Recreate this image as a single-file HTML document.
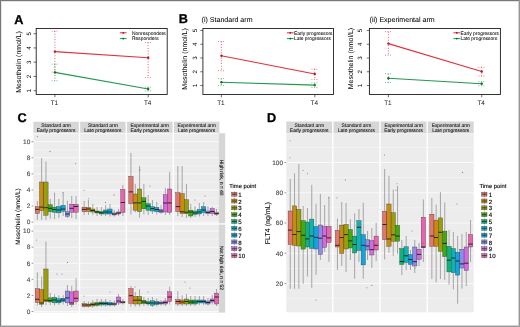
<!DOCTYPE html>
<html><head><meta charset="utf-8"><style>
html,body{margin:0;padding:0;background:#fff;}
body{width:520px;height:327px;overflow:hidden;}
svg{display:block;font-family:"Liberation Sans", sans-serif;text-rendering:geometricPrecision;will-change:transform;}
</style></head><body>
<svg width="520" height="327" viewBox="0 0 520 327">
<defs><filter id="bl" x="-2%" y="-2%" width="104%" height="104%"><feGaussianBlur stdDeviation="0.3"/></filter></defs>
<rect x="0" y="0" width="520" height="327" fill="#fff"/>
<g filter="url(#bl)">
<text x="14.2" y="23.6" font-size="12.7" text-anchor="start" fill="#000" font-weight="bold" stroke="#000" stroke-width="0.300">A</text>
<text x="178.8" y="23.1" font-size="12.7" text-anchor="start" fill="#000" font-weight="bold" stroke="#000" stroke-width="0.300">B</text>
<text x="17.6" y="122.0" font-size="12.7" text-anchor="start" fill="#000" font-weight="bold" stroke="#000" stroke-width="0.300">C</text>
<text x="266.9" y="121.9" font-size="12.7" text-anchor="start" fill="#000" font-weight="bold" stroke="#000" stroke-width="0.300">D</text>
<rect x="36.2" y="28.5" width="131.0" height="66.0" fill="none" stroke="#1c1c1c" stroke-width="0.9"/>
<line x1="36.2" y1="90.7" x2="33.6" y2="90.7" stroke="#333" stroke-width="0.7"/>
<text x="30.599999999999998" y="90.7" font-size="6.2" text-anchor="middle" fill="#000" font-weight="normal" transform="rotate(-90 30.599999999999998 90.7)">1</text>
<line x1="36.2" y1="76.45" x2="33.6" y2="76.45" stroke="#333" stroke-width="0.7"/>
<text x="30.599999999999998" y="76.45" font-size="6.2" text-anchor="middle" fill="#000" font-weight="normal" transform="rotate(-90 30.599999999999998 76.45)">2</text>
<line x1="36.2" y1="62.2" x2="33.6" y2="62.2" stroke="#333" stroke-width="0.7"/>
<text x="30.599999999999998" y="62.2" font-size="6.2" text-anchor="middle" fill="#000" font-weight="normal" transform="rotate(-90 30.599999999999998 62.2)">3</text>
<line x1="36.2" y1="47.95" x2="33.6" y2="47.95" stroke="#333" stroke-width="0.7"/>
<text x="30.599999999999998" y="47.95" font-size="6.2" text-anchor="middle" fill="#000" font-weight="normal" transform="rotate(-90 30.599999999999998 47.95)">4</text>
<line x1="36.2" y1="33.7" x2="33.6" y2="33.7" stroke="#333" stroke-width="0.7"/>
<text x="30.599999999999998" y="33.7" font-size="6.2" text-anchor="middle" fill="#000" font-weight="normal" transform="rotate(-90 30.599999999999998 33.7)">5</text>
<line x1="54.9" y1="94.5" x2="54.9" y2="97.3" stroke="#333" stroke-width="0.7"/>
<text x="54.4" y="105.1" font-size="6.4" text-anchor="middle" fill="#222" font-weight="normal">T1</text>
<line x1="148.2" y1="94.5" x2="148.2" y2="97.3" stroke="#333" stroke-width="0.7"/>
<text x="147.7" y="105.1" font-size="6.4" text-anchor="middle" fill="#222" font-weight="normal">T4</text>
<text x="20.6" y="62.0" font-size="7.0" text-anchor="middle" fill="#000" font-weight="normal" stroke="#000" stroke-width="0.050" transform="rotate(-90 20.6 62.0)">Mesothelin (nmol/L)</text>
<line x1="54.9" y1="31.1" x2="54.9" y2="72.1" stroke="#E0303F" stroke-width="0.9" stroke-dasharray="0.9 1.8" opacity="0.95"/>
<line x1="51.6" y1="31.1" x2="58.199999999999996" y2="31.1" stroke="#E0303F" stroke-width="0.8" stroke-dasharray="0.9 1.6" opacity="0.85"/>
<line x1="51.6" y1="72.1" x2="58.199999999999996" y2="72.1" stroke="#E0303F" stroke-width="0.8" stroke-dasharray="0.9 1.6" opacity="0.85"/>
<line x1="148.2" y1="42.6" x2="148.2" y2="77.4" stroke="#E0303F" stroke-width="0.9" stroke-dasharray="0.9 1.8" opacity="0.95"/>
<line x1="144.89999999999998" y1="42.6" x2="151.5" y2="42.6" stroke="#E0303F" stroke-width="0.8" stroke-dasharray="0.9 1.6" opacity="0.85"/>
<line x1="144.89999999999998" y1="77.4" x2="151.5" y2="77.4" stroke="#E0303F" stroke-width="0.8" stroke-dasharray="0.9 1.6" opacity="0.85"/>
<line x1="54.9" y1="51.6" x2="148.2" y2="57.8" stroke="#E0303F" stroke-width="1.1"/>
<circle cx="54.9" cy="51.6" r="1.2" fill="#A8101F" opacity="0.9"/>
<circle cx="148.2" cy="57.8" r="1.2" fill="#A8101F" opacity="0.9"/>
<line x1="54.9" y1="64.2" x2="54.9" y2="80.8" stroke="#23984E" stroke-width="0.9" stroke-dasharray="0.9 1.8" opacity="0.95"/>
<line x1="51.6" y1="64.2" x2="58.199999999999996" y2="64.2" stroke="#23984E" stroke-width="0.8" stroke-dasharray="0.9 1.6" opacity="0.85"/>
<line x1="51.6" y1="80.8" x2="58.199999999999996" y2="80.8" stroke="#23984E" stroke-width="0.8" stroke-dasharray="0.9 1.6" opacity="0.85"/>
<line x1="148.2" y1="87.2" x2="148.2" y2="91.0" stroke="#23984E" stroke-width="0.9" stroke-dasharray="0.9 1.8" opacity="0.95"/>
<line x1="144.89999999999998" y1="87.2" x2="151.5" y2="87.2" stroke="#23984E" stroke-width="0.8" stroke-dasharray="0.9 1.6" opacity="0.85"/>
<line x1="144.89999999999998" y1="91.0" x2="151.5" y2="91.0" stroke="#23984E" stroke-width="0.8" stroke-dasharray="0.9 1.6" opacity="0.85"/>
<line x1="54.9" y1="72.4" x2="148.2" y2="89.0" stroke="#23984E" stroke-width="1.1"/>
<circle cx="54.9" cy="72.4" r="1.2" fill="#145A2A" opacity="0.9"/>
<circle cx="148.2" cy="89.0" r="1.2" fill="#145A2A" opacity="0.9"/>
<line x1="119.8" y1="32.8" x2="126.6" y2="32.8" stroke="#E0303F" stroke-width="1.0"/>
<circle cx="123.2" cy="32.8" r="0.9" fill="#A8101F"/>
<text x="132.0" y="34.599999999999994" font-size="4.95" text-anchor="start" fill="#000" font-weight="normal" stroke="#000" stroke-width="0.050">Nonresponders</text>
<line x1="119.8" y1="38.599999999999994" x2="126.6" y2="38.599999999999994" stroke="#23984E" stroke-width="1.0"/>
<circle cx="123.2" cy="38.599999999999994" r="0.9" fill="#145A2A"/>
<text x="132.0" y="40.39999999999999" font-size="4.95" text-anchor="start" fill="#000" font-weight="normal" stroke="#000" stroke-width="0.050">Responders</text>
<rect x="202.9" y="28.5" width="130.6" height="66.0" fill="none" stroke="#1c1c1c" stroke-width="0.9"/>
<line x1="202.9" y1="85.5" x2="200.3" y2="85.5" stroke="#333" stroke-width="0.7"/>
<text x="196.6" y="85.5" font-size="6.2" text-anchor="middle" fill="#000" font-weight="normal" transform="rotate(-90 196.6 85.5)">1</text>
<line x1="202.9" y1="71.75" x2="200.3" y2="71.75" stroke="#333" stroke-width="0.7"/>
<text x="196.6" y="71.75" font-size="6.2" text-anchor="middle" fill="#000" font-weight="normal" transform="rotate(-90 196.6 71.75)">2</text>
<line x1="202.9" y1="58.0" x2="200.3" y2="58.0" stroke="#333" stroke-width="0.7"/>
<text x="196.6" y="58.0" font-size="6.2" text-anchor="middle" fill="#000" font-weight="normal" transform="rotate(-90 196.6 58.0)">3</text>
<line x1="202.9" y1="44.25" x2="200.3" y2="44.25" stroke="#333" stroke-width="0.7"/>
<text x="196.6" y="44.25" font-size="6.2" text-anchor="middle" fill="#000" font-weight="normal" transform="rotate(-90 196.6 44.25)">4</text>
<line x1="202.9" y1="30.5" x2="200.3" y2="30.5" stroke="#333" stroke-width="0.7"/>
<text x="196.6" y="30.5" font-size="6.2" text-anchor="middle" fill="#000" font-weight="normal" transform="rotate(-90 196.6 30.5)">5</text>
<line x1="221.4" y1="94.5" x2="221.4" y2="97.3" stroke="#333" stroke-width="0.7"/>
<text x="220.9" y="105.1" font-size="6.4" text-anchor="middle" fill="#222" font-weight="normal">T1</text>
<line x1="314.8" y1="94.5" x2="314.8" y2="97.3" stroke="#333" stroke-width="0.7"/>
<text x="314.3" y="105.1" font-size="6.4" text-anchor="middle" fill="#222" font-weight="normal">T4</text>
<text x="186.9" y="58.9" font-size="7.0" text-anchor="middle" fill="#000" font-weight="normal" stroke="#000" stroke-width="0.050" transform="rotate(-90 186.9 58.9)">Mesothelin (nmol/L)</text>
<line x1="221.4" y1="41.5" x2="221.4" y2="70.7" stroke="#E0303F" stroke-width="0.9" stroke-dasharray="0.9 1.8" opacity="0.95"/>
<line x1="218.1" y1="41.5" x2="224.70000000000002" y2="41.5" stroke="#E0303F" stroke-width="0.8" stroke-dasharray="0.9 1.6" opacity="0.85"/>
<line x1="218.1" y1="70.7" x2="224.70000000000002" y2="70.7" stroke="#E0303F" stroke-width="0.8" stroke-dasharray="0.9 1.6" opacity="0.85"/>
<line x1="314.8" y1="69.1" x2="314.8" y2="79.5" stroke="#E0303F" stroke-width="0.9" stroke-dasharray="0.9 1.8" opacity="0.95"/>
<line x1="311.5" y1="69.1" x2="318.1" y2="69.1" stroke="#E0303F" stroke-width="0.8" stroke-dasharray="0.9 1.6" opacity="0.85"/>
<line x1="311.5" y1="79.5" x2="318.1" y2="79.5" stroke="#E0303F" stroke-width="0.8" stroke-dasharray="0.9 1.6" opacity="0.85"/>
<line x1="221.4" y1="55.8" x2="314.8" y2="74.0" stroke="#E0303F" stroke-width="1.1"/>
<circle cx="221.4" cy="55.8" r="1.2" fill="#A8101F" opacity="0.9"/>
<circle cx="314.8" cy="74.0" r="1.2" fill="#A8101F" opacity="0.9"/>
<line x1="221.4" y1="78.6" x2="221.4" y2="85.4" stroke="#23984E" stroke-width="0.9" stroke-dasharray="0.9 1.8" opacity="0.95"/>
<line x1="218.1" y1="78.6" x2="224.70000000000002" y2="78.6" stroke="#23984E" stroke-width="0.8" stroke-dasharray="0.9 1.6" opacity="0.85"/>
<line x1="218.1" y1="85.4" x2="224.70000000000002" y2="85.4" stroke="#23984E" stroke-width="0.8" stroke-dasharray="0.9 1.6" opacity="0.85"/>
<line x1="314.8" y1="82.9" x2="314.8" y2="87.5" stroke="#23984E" stroke-width="0.9" stroke-dasharray="0.9 1.8" opacity="0.95"/>
<line x1="311.5" y1="82.9" x2="318.1" y2="82.9" stroke="#23984E" stroke-width="0.8" stroke-dasharray="0.9 1.6" opacity="0.85"/>
<line x1="311.5" y1="87.5" x2="318.1" y2="87.5" stroke="#23984E" stroke-width="0.8" stroke-dasharray="0.9 1.6" opacity="0.85"/>
<line x1="221.4" y1="82.3" x2="314.8" y2="85.1" stroke="#23984E" stroke-width="1.1"/>
<circle cx="221.4" cy="82.3" r="1.2" fill="#145A2A" opacity="0.9"/>
<circle cx="314.8" cy="85.1" r="1.2" fill="#145A2A" opacity="0.9"/>
<line x1="286.9" y1="32.8" x2="293.7" y2="32.8" stroke="#E0303F" stroke-width="1.0"/>
<circle cx="290.29999999999995" cy="32.8" r="0.9" fill="#A8101F"/>
<text x="293.9" y="34.599999999999994" font-size="4.95" text-anchor="start" fill="#000" font-weight="normal" stroke="#000" stroke-width="0.050">Early progressors</text>
<line x1="286.9" y1="38.599999999999994" x2="293.7" y2="38.599999999999994" stroke="#23984E" stroke-width="1.0"/>
<circle cx="290.29999999999995" cy="38.599999999999994" r="0.9" fill="#145A2A"/>
<text x="293.9" y="40.39999999999999" font-size="4.95" text-anchor="start" fill="#000" font-weight="normal" stroke="#000" stroke-width="0.050">Late progressors</text>
<text x="201.6" y="22.4" font-size="7.05" text-anchor="start" fill="#000" font-weight="normal" stroke="#000" stroke-width="0.050">(i) Standard arm</text>
<rect x="369.4" y="28.5" width="131.0" height="66.0" fill="none" stroke="#1c1c1c" stroke-width="0.9"/>
<line x1="369.4" y1="85.5" x2="366.79999999999995" y2="85.5" stroke="#333" stroke-width="0.7"/>
<text x="362.4" y="85.5" font-size="6.2" text-anchor="middle" fill="#000" font-weight="normal" transform="rotate(-90 362.4 85.5)">1</text>
<line x1="369.4" y1="71.75" x2="366.79999999999995" y2="71.75" stroke="#333" stroke-width="0.7"/>
<text x="362.4" y="71.75" font-size="6.2" text-anchor="middle" fill="#000" font-weight="normal" transform="rotate(-90 362.4 71.75)">2</text>
<line x1="369.4" y1="58.0" x2="366.79999999999995" y2="58.0" stroke="#333" stroke-width="0.7"/>
<text x="362.4" y="58.0" font-size="6.2" text-anchor="middle" fill="#000" font-weight="normal" transform="rotate(-90 362.4 58.0)">3</text>
<line x1="369.4" y1="44.25" x2="366.79999999999995" y2="44.25" stroke="#333" stroke-width="0.7"/>
<text x="362.4" y="44.25" font-size="6.2" text-anchor="middle" fill="#000" font-weight="normal" transform="rotate(-90 362.4 44.25)">4</text>
<line x1="369.4" y1="30.5" x2="366.79999999999995" y2="30.5" stroke="#333" stroke-width="0.7"/>
<text x="362.4" y="30.5" font-size="6.2" text-anchor="middle" fill="#000" font-weight="normal" transform="rotate(-90 362.4 30.5)">5</text>
<line x1="388.4" y1="94.5" x2="388.4" y2="97.3" stroke="#333" stroke-width="0.7"/>
<text x="387.9" y="105.1" font-size="6.4" text-anchor="middle" fill="#222" font-weight="normal">T1</text>
<line x1="481.7" y1="94.5" x2="481.7" y2="97.3" stroke="#333" stroke-width="0.7"/>
<text x="481.2" y="105.1" font-size="6.4" text-anchor="middle" fill="#222" font-weight="normal">T4</text>
<text x="353.0" y="58.6" font-size="7.0" text-anchor="middle" fill="#000" font-weight="normal" stroke="#000" stroke-width="0.050" transform="rotate(-90 353.0 58.6)">Mesothelin (nmol/L)</text>
<line x1="388.4" y1="31.7" x2="388.4" y2="55.2" stroke="#E0303F" stroke-width="0.9" stroke-dasharray="0.9 1.8" opacity="0.95"/>
<line x1="385.09999999999997" y1="31.7" x2="391.7" y2="31.7" stroke="#E0303F" stroke-width="0.8" stroke-dasharray="0.9 1.6" opacity="0.85"/>
<line x1="385.09999999999997" y1="55.2" x2="391.7" y2="55.2" stroke="#E0303F" stroke-width="0.8" stroke-dasharray="0.9 1.6" opacity="0.85"/>
<line x1="481.7" y1="67.3" x2="481.7" y2="76.1" stroke="#E0303F" stroke-width="0.9" stroke-dasharray="0.9 1.8" opacity="0.95"/>
<line x1="478.4" y1="67.3" x2="485.0" y2="67.3" stroke="#E0303F" stroke-width="0.8" stroke-dasharray="0.9 1.6" opacity="0.85"/>
<line x1="478.4" y1="76.1" x2="485.0" y2="76.1" stroke="#E0303F" stroke-width="0.8" stroke-dasharray="0.9 1.6" opacity="0.85"/>
<line x1="388.4" y1="43.6" x2="481.7" y2="71.5" stroke="#E0303F" stroke-width="1.1"/>
<circle cx="388.4" cy="43.6" r="1.2" fill="#A8101F" opacity="0.9"/>
<circle cx="481.7" cy="71.5" r="1.2" fill="#A8101F" opacity="0.9"/>
<line x1="388.4" y1="73.7" x2="388.4" y2="82.5" stroke="#23984E" stroke-width="0.9" stroke-dasharray="0.9 1.8" opacity="0.95"/>
<line x1="385.09999999999997" y1="73.7" x2="391.7" y2="73.7" stroke="#23984E" stroke-width="0.8" stroke-dasharray="0.9 1.6" opacity="0.85"/>
<line x1="385.09999999999997" y1="82.5" x2="391.7" y2="82.5" stroke="#23984E" stroke-width="0.8" stroke-dasharray="0.9 1.6" opacity="0.85"/>
<line x1="481.7" y1="81.7" x2="481.7" y2="85.8" stroke="#23984E" stroke-width="0.9" stroke-dasharray="0.9 1.8" opacity="0.95"/>
<line x1="478.4" y1="81.7" x2="485.0" y2="81.7" stroke="#23984E" stroke-width="0.8" stroke-dasharray="0.9 1.6" opacity="0.85"/>
<line x1="478.4" y1="85.8" x2="485.0" y2="85.8" stroke="#23984E" stroke-width="0.8" stroke-dasharray="0.9 1.6" opacity="0.85"/>
<line x1="388.4" y1="78.2" x2="481.7" y2="83.8" stroke="#23984E" stroke-width="1.1"/>
<circle cx="388.4" cy="78.2" r="1.2" fill="#145A2A" opacity="0.9"/>
<circle cx="481.7" cy="83.8" r="1.2" fill="#145A2A" opacity="0.9"/>
<line x1="453.4" y1="32.8" x2="460.2" y2="32.8" stroke="#E0303F" stroke-width="1.0"/>
<circle cx="456.79999999999995" cy="32.8" r="0.9" fill="#A8101F"/>
<text x="460.4" y="34.599999999999994" font-size="4.95" text-anchor="start" fill="#000" font-weight="normal" stroke="#000" stroke-width="0.050">Early progressors</text>
<line x1="453.4" y1="38.599999999999994" x2="460.2" y2="38.599999999999994" stroke="#23984E" stroke-width="1.0"/>
<circle cx="456.79999999999995" cy="38.599999999999994" r="0.9" fill="#145A2A"/>
<text x="460.4" y="40.39999999999999" font-size="4.95" text-anchor="start" fill="#000" font-weight="normal" stroke="#000" stroke-width="0.050">Late progressors</text>
<text x="369.6" y="22.4" font-size="7.05" text-anchor="start" fill="#000" font-weight="normal" stroke="#000" stroke-width="0.050">(ii) Experimental arm</text>
<rect x="33.4" y="133.2" width="45.4" height="90.10000000000002" fill="#ECECEC"/>
<line x1="33.4" y1="214.06" x2="78.8" y2="214.06" stroke="#fff" stroke-width="0.35"/>
<line x1="33.4" y1="197.98" x2="78.8" y2="197.98" stroke="#fff" stroke-width="0.35"/>
<line x1="33.4" y1="181.9" x2="78.8" y2="181.9" stroke="#fff" stroke-width="0.35"/>
<line x1="33.4" y1="165.82" x2="78.8" y2="165.82" stroke="#fff" stroke-width="0.35"/>
<line x1="33.4" y1="149.74" x2="78.8" y2="149.74" stroke="#fff" stroke-width="0.35"/>
<line x1="33.4" y1="133.66" x2="78.8" y2="133.66" stroke="#fff" stroke-width="0.35"/>
<line x1="33.4" y1="222.1" x2="78.8" y2="222.1" stroke="#fff" stroke-width="0.7"/>
<line x1="33.4" y1="206.01999999999998" x2="78.8" y2="206.01999999999998" stroke="#fff" stroke-width="0.7"/>
<line x1="33.4" y1="189.94" x2="78.8" y2="189.94" stroke="#fff" stroke-width="0.7"/>
<line x1="33.4" y1="173.86" x2="78.8" y2="173.86" stroke="#fff" stroke-width="0.7"/>
<line x1="33.4" y1="157.78" x2="78.8" y2="157.78" stroke="#fff" stroke-width="0.7"/>
<line x1="33.4" y1="141.7" x2="78.8" y2="141.7" stroke="#fff" stroke-width="0.7"/>
<rect x="80.2" y="133.2" width="45.39999999999999" height="90.10000000000002" fill="#ECECEC"/>
<line x1="80.2" y1="214.06" x2="125.6" y2="214.06" stroke="#fff" stroke-width="0.35"/>
<line x1="80.2" y1="197.98" x2="125.6" y2="197.98" stroke="#fff" stroke-width="0.35"/>
<line x1="80.2" y1="181.9" x2="125.6" y2="181.9" stroke="#fff" stroke-width="0.35"/>
<line x1="80.2" y1="165.82" x2="125.6" y2="165.82" stroke="#fff" stroke-width="0.35"/>
<line x1="80.2" y1="149.74" x2="125.6" y2="149.74" stroke="#fff" stroke-width="0.35"/>
<line x1="80.2" y1="133.66" x2="125.6" y2="133.66" stroke="#fff" stroke-width="0.35"/>
<line x1="80.2" y1="222.1" x2="125.6" y2="222.1" stroke="#fff" stroke-width="0.7"/>
<line x1="80.2" y1="206.01999999999998" x2="125.6" y2="206.01999999999998" stroke="#fff" stroke-width="0.7"/>
<line x1="80.2" y1="189.94" x2="125.6" y2="189.94" stroke="#fff" stroke-width="0.7"/>
<line x1="80.2" y1="173.86" x2="125.6" y2="173.86" stroke="#fff" stroke-width="0.7"/>
<line x1="80.2" y1="157.78" x2="125.6" y2="157.78" stroke="#fff" stroke-width="0.7"/>
<line x1="80.2" y1="141.7" x2="125.6" y2="141.7" stroke="#fff" stroke-width="0.7"/>
<rect x="127.0" y="133.2" width="45.5" height="90.10000000000002" fill="#ECECEC"/>
<line x1="127.0" y1="214.06" x2="172.5" y2="214.06" stroke="#fff" stroke-width="0.35"/>
<line x1="127.0" y1="197.98" x2="172.5" y2="197.98" stroke="#fff" stroke-width="0.35"/>
<line x1="127.0" y1="181.9" x2="172.5" y2="181.9" stroke="#fff" stroke-width="0.35"/>
<line x1="127.0" y1="165.82" x2="172.5" y2="165.82" stroke="#fff" stroke-width="0.35"/>
<line x1="127.0" y1="149.74" x2="172.5" y2="149.74" stroke="#fff" stroke-width="0.35"/>
<line x1="127.0" y1="133.66" x2="172.5" y2="133.66" stroke="#fff" stroke-width="0.35"/>
<line x1="127.0" y1="222.1" x2="172.5" y2="222.1" stroke="#fff" stroke-width="0.7"/>
<line x1="127.0" y1="206.01999999999998" x2="172.5" y2="206.01999999999998" stroke="#fff" stroke-width="0.7"/>
<line x1="127.0" y1="189.94" x2="172.5" y2="189.94" stroke="#fff" stroke-width="0.7"/>
<line x1="127.0" y1="173.86" x2="172.5" y2="173.86" stroke="#fff" stroke-width="0.7"/>
<line x1="127.0" y1="157.78" x2="172.5" y2="157.78" stroke="#fff" stroke-width="0.7"/>
<line x1="127.0" y1="141.7" x2="172.5" y2="141.7" stroke="#fff" stroke-width="0.7"/>
<rect x="173.9" y="133.2" width="45.5" height="90.10000000000002" fill="#ECECEC"/>
<line x1="173.9" y1="214.06" x2="219.4" y2="214.06" stroke="#fff" stroke-width="0.35"/>
<line x1="173.9" y1="197.98" x2="219.4" y2="197.98" stroke="#fff" stroke-width="0.35"/>
<line x1="173.9" y1="181.9" x2="219.4" y2="181.9" stroke="#fff" stroke-width="0.35"/>
<line x1="173.9" y1="165.82" x2="219.4" y2="165.82" stroke="#fff" stroke-width="0.35"/>
<line x1="173.9" y1="149.74" x2="219.4" y2="149.74" stroke="#fff" stroke-width="0.35"/>
<line x1="173.9" y1="133.66" x2="219.4" y2="133.66" stroke="#fff" stroke-width="0.35"/>
<line x1="173.9" y1="222.1" x2="219.4" y2="222.1" stroke="#fff" stroke-width="0.7"/>
<line x1="173.9" y1="206.01999999999998" x2="219.4" y2="206.01999999999998" stroke="#fff" stroke-width="0.7"/>
<line x1="173.9" y1="189.94" x2="219.4" y2="189.94" stroke="#fff" stroke-width="0.7"/>
<line x1="173.9" y1="173.86" x2="219.4" y2="173.86" stroke="#fff" stroke-width="0.7"/>
<line x1="173.9" y1="157.78" x2="219.4" y2="157.78" stroke="#fff" stroke-width="0.7"/>
<line x1="173.9" y1="141.7" x2="219.4" y2="141.7" stroke="#fff" stroke-width="0.7"/>
<line x1="31.599999999999998" y1="222.10" x2="33.4" y2="222.10" stroke="#333" stroke-width="0.5"/>
<text x="30.299999999999997" y="224.4" font-size="6.5" text-anchor="end" fill="#4d4d4d" font-weight="normal" stroke="#4d4d4d" stroke-width="0.143">0</text>
<line x1="31.599999999999998" y1="206.02" x2="33.4" y2="206.02" stroke="#333" stroke-width="0.5"/>
<text x="30.299999999999997" y="208.32" font-size="6.5" text-anchor="end" fill="#4d4d4d" font-weight="normal" stroke="#4d4d4d" stroke-width="0.143">2</text>
<line x1="31.599999999999998" y1="189.94" x2="33.4" y2="189.94" stroke="#333" stroke-width="0.5"/>
<text x="30.299999999999997" y="192.24" font-size="6.5" text-anchor="end" fill="#4d4d4d" font-weight="normal" stroke="#4d4d4d" stroke-width="0.143">4</text>
<line x1="31.599999999999998" y1="173.86" x2="33.4" y2="173.86" stroke="#333" stroke-width="0.5"/>
<text x="30.299999999999997" y="176.16000000000003" font-size="6.5" text-anchor="end" fill="#4d4d4d" font-weight="normal" stroke="#4d4d4d" stroke-width="0.143">6</text>
<line x1="31.599999999999998" y1="157.78" x2="33.4" y2="157.78" stroke="#333" stroke-width="0.5"/>
<text x="30.299999999999997" y="160.08" font-size="6.5" text-anchor="end" fill="#4d4d4d" font-weight="normal" stroke="#4d4d4d" stroke-width="0.143">8</text>
<line x1="31.599999999999998" y1="141.70" x2="33.4" y2="141.70" stroke="#333" stroke-width="0.5"/>
<text x="30.299999999999997" y="144.0" font-size="6.5" text-anchor="end" fill="#4d4d4d" font-weight="normal" stroke="#4d4d4d" stroke-width="0.143">10</text>
<rect x="218.9" y="133.2" width="6.3" height="90.10000000000002" fill="#D6D6D6"/>
<text x="219.7" y="177.65" font-size="4.95" text-anchor="middle" fill="#1a1a1a" font-weight="normal" stroke="#1a1a1a" stroke-width="0.109" transform="rotate(90 219.7 177.65)">High risk, n = 40</text>
<rect x="33.4" y="224.6" width="45.4" height="88.00000000000003" fill="#ECECEC"/>
<line x1="33.4" y1="303.46" x2="78.8" y2="303.46" stroke="#fff" stroke-width="0.35"/>
<line x1="33.4" y1="287.38" x2="78.8" y2="287.38" stroke="#fff" stroke-width="0.35"/>
<line x1="33.4" y1="271.3" x2="78.8" y2="271.3" stroke="#fff" stroke-width="0.35"/>
<line x1="33.4" y1="255.22" x2="78.8" y2="255.22" stroke="#fff" stroke-width="0.35"/>
<line x1="33.4" y1="239.14000000000001" x2="78.8" y2="239.14000000000001" stroke="#fff" stroke-width="0.35"/>
<line x1="33.4" y1="311.5" x2="78.8" y2="311.5" stroke="#fff" stroke-width="0.7"/>
<line x1="33.4" y1="295.42" x2="78.8" y2="295.42" stroke="#fff" stroke-width="0.7"/>
<line x1="33.4" y1="279.34000000000003" x2="78.8" y2="279.34000000000003" stroke="#fff" stroke-width="0.7"/>
<line x1="33.4" y1="263.26" x2="78.8" y2="263.26" stroke="#fff" stroke-width="0.7"/>
<line x1="33.4" y1="247.18" x2="78.8" y2="247.18" stroke="#fff" stroke-width="0.7"/>
<line x1="33.4" y1="231.10000000000002" x2="78.8" y2="231.10000000000002" stroke="#fff" stroke-width="0.7"/>
<rect x="80.2" y="224.6" width="45.39999999999999" height="88.00000000000003" fill="#ECECEC"/>
<line x1="80.2" y1="303.46" x2="125.6" y2="303.46" stroke="#fff" stroke-width="0.35"/>
<line x1="80.2" y1="287.38" x2="125.6" y2="287.38" stroke="#fff" stroke-width="0.35"/>
<line x1="80.2" y1="271.3" x2="125.6" y2="271.3" stroke="#fff" stroke-width="0.35"/>
<line x1="80.2" y1="255.22" x2="125.6" y2="255.22" stroke="#fff" stroke-width="0.35"/>
<line x1="80.2" y1="239.14000000000001" x2="125.6" y2="239.14000000000001" stroke="#fff" stroke-width="0.35"/>
<line x1="80.2" y1="311.5" x2="125.6" y2="311.5" stroke="#fff" stroke-width="0.7"/>
<line x1="80.2" y1="295.42" x2="125.6" y2="295.42" stroke="#fff" stroke-width="0.7"/>
<line x1="80.2" y1="279.34000000000003" x2="125.6" y2="279.34000000000003" stroke="#fff" stroke-width="0.7"/>
<line x1="80.2" y1="263.26" x2="125.6" y2="263.26" stroke="#fff" stroke-width="0.7"/>
<line x1="80.2" y1="247.18" x2="125.6" y2="247.18" stroke="#fff" stroke-width="0.7"/>
<line x1="80.2" y1="231.10000000000002" x2="125.6" y2="231.10000000000002" stroke="#fff" stroke-width="0.7"/>
<rect x="127.0" y="224.6" width="45.5" height="88.00000000000003" fill="#ECECEC"/>
<line x1="127.0" y1="303.46" x2="172.5" y2="303.46" stroke="#fff" stroke-width="0.35"/>
<line x1="127.0" y1="287.38" x2="172.5" y2="287.38" stroke="#fff" stroke-width="0.35"/>
<line x1="127.0" y1="271.3" x2="172.5" y2="271.3" stroke="#fff" stroke-width="0.35"/>
<line x1="127.0" y1="255.22" x2="172.5" y2="255.22" stroke="#fff" stroke-width="0.35"/>
<line x1="127.0" y1="239.14000000000001" x2="172.5" y2="239.14000000000001" stroke="#fff" stroke-width="0.35"/>
<line x1="127.0" y1="311.5" x2="172.5" y2="311.5" stroke="#fff" stroke-width="0.7"/>
<line x1="127.0" y1="295.42" x2="172.5" y2="295.42" stroke="#fff" stroke-width="0.7"/>
<line x1="127.0" y1="279.34000000000003" x2="172.5" y2="279.34000000000003" stroke="#fff" stroke-width="0.7"/>
<line x1="127.0" y1="263.26" x2="172.5" y2="263.26" stroke="#fff" stroke-width="0.7"/>
<line x1="127.0" y1="247.18" x2="172.5" y2="247.18" stroke="#fff" stroke-width="0.7"/>
<line x1="127.0" y1="231.10000000000002" x2="172.5" y2="231.10000000000002" stroke="#fff" stroke-width="0.7"/>
<rect x="173.9" y="224.6" width="45.5" height="88.00000000000003" fill="#ECECEC"/>
<line x1="173.9" y1="303.46" x2="219.4" y2="303.46" stroke="#fff" stroke-width="0.35"/>
<line x1="173.9" y1="287.38" x2="219.4" y2="287.38" stroke="#fff" stroke-width="0.35"/>
<line x1="173.9" y1="271.3" x2="219.4" y2="271.3" stroke="#fff" stroke-width="0.35"/>
<line x1="173.9" y1="255.22" x2="219.4" y2="255.22" stroke="#fff" stroke-width="0.35"/>
<line x1="173.9" y1="239.14000000000001" x2="219.4" y2="239.14000000000001" stroke="#fff" stroke-width="0.35"/>
<line x1="173.9" y1="311.5" x2="219.4" y2="311.5" stroke="#fff" stroke-width="0.7"/>
<line x1="173.9" y1="295.42" x2="219.4" y2="295.42" stroke="#fff" stroke-width="0.7"/>
<line x1="173.9" y1="279.34000000000003" x2="219.4" y2="279.34000000000003" stroke="#fff" stroke-width="0.7"/>
<line x1="173.9" y1="263.26" x2="219.4" y2="263.26" stroke="#fff" stroke-width="0.7"/>
<line x1="173.9" y1="247.18" x2="219.4" y2="247.18" stroke="#fff" stroke-width="0.7"/>
<line x1="173.9" y1="231.10000000000002" x2="219.4" y2="231.10000000000002" stroke="#fff" stroke-width="0.7"/>
<line x1="31.599999999999998" y1="311.50" x2="33.4" y2="311.50" stroke="#333" stroke-width="0.5"/>
<text x="30.299999999999997" y="313.8" font-size="6.5" text-anchor="end" fill="#4d4d4d" font-weight="normal" stroke="#4d4d4d" stroke-width="0.143">0</text>
<line x1="31.599999999999998" y1="295.42" x2="33.4" y2="295.42" stroke="#333" stroke-width="0.5"/>
<text x="30.299999999999997" y="297.72" font-size="6.5" text-anchor="end" fill="#4d4d4d" font-weight="normal" stroke="#4d4d4d" stroke-width="0.143">2</text>
<line x1="31.599999999999998" y1="279.34" x2="33.4" y2="279.34" stroke="#333" stroke-width="0.5"/>
<text x="30.299999999999997" y="281.64000000000004" font-size="6.5" text-anchor="end" fill="#4d4d4d" font-weight="normal" stroke="#4d4d4d" stroke-width="0.143">4</text>
<line x1="31.599999999999998" y1="263.26" x2="33.4" y2="263.26" stroke="#333" stroke-width="0.5"/>
<text x="30.299999999999997" y="265.56" font-size="6.5" text-anchor="end" fill="#4d4d4d" font-weight="normal" stroke="#4d4d4d" stroke-width="0.143">6</text>
<line x1="31.599999999999998" y1="247.18" x2="33.4" y2="247.18" stroke="#333" stroke-width="0.5"/>
<text x="30.299999999999997" y="249.48000000000002" font-size="6.5" text-anchor="end" fill="#4d4d4d" font-weight="normal" stroke="#4d4d4d" stroke-width="0.143">8</text>
<line x1="31.599999999999998" y1="231.10" x2="33.4" y2="231.10" stroke="#333" stroke-width="0.5"/>
<text x="30.299999999999997" y="233.40000000000003" font-size="6.5" text-anchor="end" fill="#4d4d4d" font-weight="normal" stroke="#4d4d4d" stroke-width="0.143">10</text>
<rect x="218.9" y="224.6" width="6.3" height="88.00000000000003" fill="#D6D6D6"/>
<text x="219.7" y="268.0" font-size="4.95" text-anchor="middle" fill="#1a1a1a" font-weight="normal" stroke="#1a1a1a" stroke-width="0.109" transform="rotate(90 219.7 268.0)">Not high risk, n = 52</text>
<rect x="33.4" y="121.7" width="45.4" height="11.100000000000009" fill="#D6D6D6"/>
<text x="56.099999999999994" y="126.7" font-size="4.9" text-anchor="middle" fill="#1a1a1a" font-weight="normal" stroke="#1a1a1a" stroke-width="0.108">Standard arm</text>
<text x="56.099999999999994" y="131.7" font-size="4.95" text-anchor="middle" fill="#1a1a1a" font-weight="normal" stroke="#1a1a1a" stroke-width="0.109">Early progressors</text>
<rect x="80.2" y="121.7" width="45.39999999999999" height="11.100000000000009" fill="#D6D6D6"/>
<text x="102.9" y="126.7" font-size="4.9" text-anchor="middle" fill="#1a1a1a" font-weight="normal" stroke="#1a1a1a" stroke-width="0.108">Standard arm</text>
<text x="102.9" y="131.7" font-size="4.95" text-anchor="middle" fill="#1a1a1a" font-weight="normal" stroke="#1a1a1a" stroke-width="0.109">Late progressors</text>
<rect x="127.0" y="121.7" width="45.5" height="11.100000000000009" fill="#D6D6D6"/>
<text x="149.75" y="126.7" font-size="4.9" text-anchor="middle" fill="#1a1a1a" font-weight="normal" stroke="#1a1a1a" stroke-width="0.108">Experimental arm</text>
<text x="149.75" y="131.7" font-size="4.95" text-anchor="middle" fill="#1a1a1a" font-weight="normal" stroke="#1a1a1a" stroke-width="0.109">Early progressors</text>
<rect x="173.9" y="121.7" width="45.5" height="11.100000000000009" fill="#D6D6D6"/>
<text x="196.65" y="126.7" font-size="4.9" text-anchor="middle" fill="#1a1a1a" font-weight="normal" stroke="#1a1a1a" stroke-width="0.108">Experimental arm</text>
<text x="196.65" y="131.7" font-size="4.95" text-anchor="middle" fill="#1a1a1a" font-weight="normal" stroke="#1a1a1a" stroke-width="0.109">Late progressors</text>
<text x="20.3" y="216.6" font-size="6.45" text-anchor="middle" fill="#000" font-weight="normal" stroke="#000" stroke-width="0.080" transform="rotate(-90 20.3 216.6)">Mesothelin (nmol/L)</text>
<line x1="37.35" y1="201.0" x2="37.35" y2="206.5" stroke="#4d4d4d" stroke-width="0.45"/>
<line x1="37.35" y1="213.5" x2="37.35" y2="219.9" stroke="#4d4d4d" stroke-width="0.45"/>
<rect x="35.20" y="206.5" width="4.3" height="7.00" fill="#E4746C" stroke="#333" stroke-width="0.35"/>
<line x1="35.20" y1="209.4" x2="39.50" y2="209.4" stroke="#1a1a1a" stroke-width="0.9"/>
<line x1="41.65" y1="158.0" x2="41.65" y2="182.0" stroke="#4d4d4d" stroke-width="0.45"/>
<line x1="41.65" y1="210.6" x2="41.65" y2="219.9" stroke="#4d4d4d" stroke-width="0.45"/>
<rect x="39.50" y="182.0" width="4.3" height="28.60" fill="#C88B0F" stroke="#333" stroke-width="0.35"/>
<line x1="39.50" y1="207.1" x2="43.80" y2="207.1" stroke="#1a1a1a" stroke-width="0.9"/>
<line x1="45.95" y1="161.5" x2="45.95" y2="182.0" stroke="#4d4d4d" stroke-width="0.45"/>
<line x1="45.95" y1="215.2" x2="45.95" y2="220.0" stroke="#4d4d4d" stroke-width="0.45"/>
<rect x="43.80" y="182.0" width="4.3" height="33.20" fill="#9B9D0F" stroke="#333" stroke-width="0.35"/>
<line x1="43.80" y1="207.7" x2="48.10" y2="207.7" stroke="#1a1a1a" stroke-width="0.9"/>
<line x1="50.25" y1="199.0" x2="50.25" y2="204.8" stroke="#4d4d4d" stroke-width="0.45"/>
<line x1="50.25" y1="211.7" x2="50.25" y2="218.7" stroke="#4d4d4d" stroke-width="0.45"/>
<rect x="48.10" y="204.8" width="4.3" height="6.90" fill="#40AB0F" stroke="#333" stroke-width="0.35"/>
<line x1="48.10" y1="208.3" x2="52.40" y2="208.3" stroke="#1a1a1a" stroke-width="0.9"/>
<line x1="54.55" y1="192.6" x2="54.55" y2="207.1" stroke="#4d4d4d" stroke-width="0.45"/>
<line x1="54.55" y1="212.3" x2="54.55" y2="219.0" stroke="#4d4d4d" stroke-width="0.45"/>
<rect x="52.40" y="207.1" width="4.3" height="5.20" fill="#0FB37A" stroke="#333" stroke-width="0.35"/>
<line x1="52.40" y1="209.5" x2="56.70" y2="209.5" stroke="#1a1a1a" stroke-width="0.9"/>
<line x1="58.85" y1="199.0" x2="58.85" y2="206.5" stroke="#4d4d4d" stroke-width="0.45"/>
<line x1="58.85" y1="212.9" x2="58.85" y2="218.0" stroke="#4d4d4d" stroke-width="0.45"/>
<rect x="56.70" y="206.5" width="4.3" height="6.40" fill="#0FB3B7" stroke="#333" stroke-width="0.35"/>
<line x1="56.70" y1="210.0" x2="61.00" y2="210.0" stroke="#1a1a1a" stroke-width="0.9"/>
<line x1="63.15" y1="192.6" x2="63.15" y2="205.3" stroke="#4d4d4d" stroke-width="0.45"/>
<line x1="63.15" y1="211.2" x2="63.15" y2="216.0" stroke="#4d4d4d" stroke-width="0.45"/>
<rect x="61.00" y="205.3" width="4.3" height="5.90" fill="#0FA6E2" stroke="#333" stroke-width="0.35"/>
<line x1="61.00" y1="209.0" x2="65.30" y2="209.0" stroke="#1a1a1a" stroke-width="0.9"/>
<line x1="67.45" y1="200.7" x2="67.45" y2="211.7" stroke="#4d4d4d" stroke-width="0.45"/>
<line x1="67.45" y1="216.4" x2="67.45" y2="218.0" stroke="#4d4d4d" stroke-width="0.45"/>
<rect x="65.30" y="211.7" width="4.3" height="4.70" fill="#8F8BEA" stroke="#333" stroke-width="0.35"/>
<line x1="65.30" y1="214.0" x2="69.60" y2="214.0" stroke="#1a1a1a" stroke-width="0.9"/>
<line x1="71.75" y1="196.0" x2="71.75" y2="204.2" stroke="#4d4d4d" stroke-width="0.45"/>
<line x1="71.75" y1="212.3" x2="71.75" y2="218.0" stroke="#4d4d4d" stroke-width="0.45"/>
<rect x="69.60" y="204.2" width="4.3" height="8.10" fill="#D56BE0" stroke="#333" stroke-width="0.35"/>
<line x1="69.60" y1="208.3" x2="73.90" y2="208.3" stroke="#1a1a1a" stroke-width="0.9"/>
<line x1="76.05" y1="196.0" x2="76.05" y2="204.2" stroke="#4d4d4d" stroke-width="0.45"/>
<line x1="76.05" y1="212.3" x2="76.05" y2="219.0" stroke="#4d4d4d" stroke-width="0.45"/>
<rect x="73.90" y="204.2" width="4.3" height="8.10" fill="#EA63B0" stroke="#333" stroke-width="0.35"/>
<line x1="73.90" y1="206.5" x2="78.20" y2="206.5" stroke="#1a1a1a" stroke-width="0.9"/>
<circle cx="37.3" cy="136.6" r="0.55" fill="#555" opacity="0.7"/>
<circle cx="50.0" cy="151.4" r="0.55" fill="#555" opacity="0.7"/>
<circle cx="75.4" cy="163.6" r="0.55" fill="#555" opacity="0.7"/>
<circle cx="63.0" cy="192.6" r="0.55" fill="#555" opacity="0.7"/>
<line x1="84.15" y1="201.0" x2="84.15" y2="207.1" stroke="#4d4d4d" stroke-width="0.45"/>
<line x1="84.15" y1="211.7" x2="84.15" y2="215.0" stroke="#4d4d4d" stroke-width="0.45"/>
<rect x="82.00" y="207.1" width="4.3" height="4.60" fill="#E4746C" stroke="#333" stroke-width="0.35"/>
<line x1="82.00" y1="209.4" x2="86.30" y2="209.4" stroke="#1a1a1a" stroke-width="0.9"/>
<line x1="88.45" y1="200.0" x2="88.45" y2="207.5" stroke="#4d4d4d" stroke-width="0.45"/>
<line x1="88.45" y1="211.5" x2="88.45" y2="215.0" stroke="#4d4d4d" stroke-width="0.45"/>
<rect x="86.30" y="207.5" width="4.3" height="4.00" fill="#C88B0F" stroke="#333" stroke-width="0.35"/>
<line x1="86.30" y1="209.0" x2="90.60" y2="209.0" stroke="#1a1a1a" stroke-width="0.9"/>
<line x1="92.75" y1="204.0" x2="92.75" y2="209.0" stroke="#4d4d4d" stroke-width="0.45"/>
<line x1="92.75" y1="212.0" x2="92.75" y2="215.0" stroke="#4d4d4d" stroke-width="0.45"/>
<rect x="90.60" y="209.0" width="4.3" height="3.00" fill="#9B9D0F" stroke="#333" stroke-width="0.35"/>
<line x1="90.60" y1="210.5" x2="94.90" y2="210.5" stroke="#1a1a1a" stroke-width="0.9"/>
<line x1="97.05" y1="207.0" x2="97.05" y2="211.0" stroke="#4d4d4d" stroke-width="0.45"/>
<line x1="97.05" y1="213.0" x2="97.05" y2="216.0" stroke="#4d4d4d" stroke-width="0.45"/>
<rect x="94.90" y="211.0" width="4.3" height="2.00" fill="#40AB0F" stroke="#333" stroke-width="0.35"/>
<line x1="94.90" y1="212.0" x2="99.20" y2="212.0" stroke="#1a1a1a" stroke-width="0.9"/>
<line x1="101.35" y1="207.0" x2="101.35" y2="211.5" stroke="#4d4d4d" stroke-width="0.45"/>
<line x1="101.35" y1="214.0" x2="101.35" y2="216.0" stroke="#4d4d4d" stroke-width="0.45"/>
<rect x="99.20" y="211.5" width="4.3" height="2.50" fill="#0FB37A" stroke="#333" stroke-width="0.35"/>
<line x1="99.20" y1="212.8" x2="103.50" y2="212.8" stroke="#1a1a1a" stroke-width="0.9"/>
<line x1="105.65" y1="205.0" x2="105.65" y2="210.0" stroke="#4d4d4d" stroke-width="0.45"/>
<line x1="105.65" y1="214.0" x2="105.65" y2="216.0" stroke="#4d4d4d" stroke-width="0.45"/>
<rect x="103.50" y="210.0" width="4.3" height="4.00" fill="#0FB3B7" stroke="#333" stroke-width="0.35"/>
<line x1="103.50" y1="212.0" x2="107.80" y2="212.0" stroke="#1a1a1a" stroke-width="0.9"/>
<line x1="109.95" y1="204.0" x2="109.95" y2="209.0" stroke="#4d4d4d" stroke-width="0.45"/>
<line x1="109.95" y1="214.0" x2="109.95" y2="216.5" stroke="#4d4d4d" stroke-width="0.45"/>
<rect x="107.80" y="209.0" width="4.3" height="5.00" fill="#0FA6E2" stroke="#333" stroke-width="0.35"/>
<line x1="107.80" y1="212.0" x2="112.10" y2="212.0" stroke="#1a1a1a" stroke-width="0.9"/>
<line x1="114.25" y1="210.0" x2="114.25" y2="213.0" stroke="#4d4d4d" stroke-width="0.45"/>
<line x1="114.25" y1="215.0" x2="114.25" y2="216.5" stroke="#4d4d4d" stroke-width="0.45"/>
<rect x="112.10" y="213.0" width="4.3" height="2.00" fill="#8F8BEA" stroke="#333" stroke-width="0.35"/>
<line x1="112.10" y1="214.0" x2="116.40" y2="214.0" stroke="#1a1a1a" stroke-width="0.9"/>
<line x1="118.55" y1="209.0" x2="118.55" y2="212.0" stroke="#4d4d4d" stroke-width="0.45"/>
<line x1="118.55" y1="214.0" x2="118.55" y2="216.0" stroke="#4d4d4d" stroke-width="0.45"/>
<rect x="116.40" y="212.0" width="4.3" height="2.00" fill="#D56BE0" stroke="#333" stroke-width="0.35"/>
<line x1="116.40" y1="213.0" x2="120.70" y2="213.0" stroke="#1a1a1a" stroke-width="0.9"/>
<line x1="122.85" y1="185.0" x2="122.85" y2="189.5" stroke="#4d4d4d" stroke-width="0.45"/>
<line x1="122.85" y1="212.5" x2="122.85" y2="216.0" stroke="#4d4d4d" stroke-width="0.45"/>
<rect x="120.70" y="189.5" width="4.3" height="23.00" fill="#EA63B0" stroke="#333" stroke-width="0.35"/>
<line x1="120.70" y1="202.5" x2="125.00" y2="202.5" stroke="#1a1a1a" stroke-width="0.9"/>
<circle cx="84.0" cy="190.3" r="0.55" fill="#555" opacity="0.7"/>
<circle cx="88.7" cy="198.7" r="0.55" fill="#555" opacity="0.7"/>
<circle cx="114.0" cy="194.9" r="0.55" fill="#555" opacity="0.7"/>
<circle cx="105.5" cy="202.5" r="0.55" fill="#555" opacity="0.7"/>
<line x1="130.95" y1="152.9" x2="130.95" y2="176.4" stroke="#4d4d4d" stroke-width="0.45"/>
<line x1="130.95" y1="203.6" x2="130.95" y2="214.6" stroke="#4d4d4d" stroke-width="0.45"/>
<rect x="128.80" y="176.4" width="4.3" height="27.20" fill="#E4746C" stroke="#333" stroke-width="0.35"/>
<line x1="128.80" y1="191.9" x2="133.10" y2="191.9" stroke="#1a1a1a" stroke-width="0.9"/>
<line x1="135.25" y1="183.8" x2="135.25" y2="194.0" stroke="#4d4d4d" stroke-width="0.45"/>
<line x1="135.25" y1="210.2" x2="135.25" y2="212.4" stroke="#4d4d4d" stroke-width="0.45"/>
<rect x="133.10" y="194.0" width="4.3" height="16.20" fill="#C88B0F" stroke="#333" stroke-width="0.35"/>
<line x1="133.10" y1="202.9" x2="137.40" y2="202.9" stroke="#1a1a1a" stroke-width="0.9"/>
<line x1="139.55" y1="166.0" x2="139.55" y2="189.0" stroke="#4d4d4d" stroke-width="0.45"/>
<line x1="139.55" y1="211.7" x2="139.55" y2="217.6" stroke="#4d4d4d" stroke-width="0.45"/>
<rect x="137.40" y="189.0" width="4.3" height="22.70" fill="#9B9D0F" stroke="#333" stroke-width="0.35"/>
<line x1="137.40" y1="202.9" x2="141.70" y2="202.9" stroke="#1a1a1a" stroke-width="0.9"/>
<line x1="143.85" y1="183.8" x2="143.85" y2="197.8" stroke="#4d4d4d" stroke-width="0.45"/>
<line x1="143.85" y1="208.8" x2="143.85" y2="214.6" stroke="#4d4d4d" stroke-width="0.45"/>
<rect x="141.70" y="197.8" width="4.3" height="11.00" fill="#40AB0F" stroke="#333" stroke-width="0.35"/>
<line x1="141.70" y1="201.4" x2="146.00" y2="201.4" stroke="#1a1a1a" stroke-width="0.9"/>
<line x1="148.15" y1="195.0" x2="148.15" y2="203.6" stroke="#4d4d4d" stroke-width="0.45"/>
<line x1="148.15" y1="210.2" x2="148.15" y2="215.0" stroke="#4d4d4d" stroke-width="0.45"/>
<rect x="146.00" y="203.6" width="4.3" height="6.60" fill="#0FB37A" stroke="#333" stroke-width="0.35"/>
<line x1="146.00" y1="206.0" x2="150.30" y2="206.0" stroke="#1a1a1a" stroke-width="0.9"/>
<line x1="152.45" y1="200.0" x2="152.45" y2="206.6" stroke="#4d4d4d" stroke-width="0.45"/>
<line x1="152.45" y1="211.0" x2="152.45" y2="214.0" stroke="#4d4d4d" stroke-width="0.45"/>
<rect x="150.30" y="206.6" width="4.3" height="4.40" fill="#0FB3B7" stroke="#333" stroke-width="0.35"/>
<line x1="150.30" y1="208.6" x2="154.60" y2="208.6" stroke="#1a1a1a" stroke-width="0.9"/>
<line x1="156.75" y1="202.0" x2="156.75" y2="207.3" stroke="#4d4d4d" stroke-width="0.45"/>
<line x1="156.75" y1="211.7" x2="156.75" y2="214.5" stroke="#4d4d4d" stroke-width="0.45"/>
<rect x="154.60" y="207.3" width="4.3" height="4.40" fill="#0FA6E2" stroke="#333" stroke-width="0.35"/>
<line x1="154.60" y1="209.5" x2="158.90" y2="209.5" stroke="#1a1a1a" stroke-width="0.9"/>
<line x1="161.05" y1="205.0" x2="161.05" y2="209.5" stroke="#4d4d4d" stroke-width="0.45"/>
<line x1="161.05" y1="212.4" x2="161.05" y2="214.0" stroke="#4d4d4d" stroke-width="0.45"/>
<rect x="158.90" y="209.5" width="4.3" height="2.90" fill="#8F8BEA" stroke="#333" stroke-width="0.35"/>
<line x1="158.90" y1="211.0" x2="163.20" y2="211.0" stroke="#1a1a1a" stroke-width="0.9"/>
<line x1="165.35" y1="188.0" x2="165.35" y2="194.7" stroke="#4d4d4d" stroke-width="0.45"/>
<line x1="165.35" y1="212.0" x2="165.35" y2="215.0" stroke="#4d4d4d" stroke-width="0.45"/>
<rect x="163.20" y="194.7" width="4.3" height="17.30" fill="#D56BE0" stroke="#333" stroke-width="0.35"/>
<line x1="163.20" y1="203.0" x2="167.50" y2="203.0" stroke="#1a1a1a" stroke-width="0.9"/>
<line x1="169.65" y1="171.8" x2="169.65" y2="189.0" stroke="#4d4d4d" stroke-width="0.45"/>
<line x1="169.65" y1="212.4" x2="169.65" y2="215.0" stroke="#4d4d4d" stroke-width="0.45"/>
<rect x="167.50" y="189.0" width="4.3" height="23.40" fill="#EA63B0" stroke="#333" stroke-width="0.35"/>
<line x1="167.50" y1="202.9" x2="171.80" y2="202.9" stroke="#1a1a1a" stroke-width="0.9"/>
<circle cx="140.0" cy="170.0" r="0.55" fill="#555" opacity="0.7"/>
<circle cx="150.0" cy="186.0" r="0.55" fill="#555" opacity="0.7"/>
<line x1="177.85" y1="166.0" x2="177.85" y2="192.7" stroke="#4d4d4d" stroke-width="0.45"/>
<line x1="177.85" y1="211.6" x2="177.85" y2="216.0" stroke="#4d4d4d" stroke-width="0.45"/>
<rect x="175.70" y="192.7" width="4.3" height="18.90" fill="#E4746C" stroke="#333" stroke-width="0.35"/>
<line x1="175.70" y1="206.6" x2="180.00" y2="206.6" stroke="#1a1a1a" stroke-width="0.9"/>
<line x1="182.15" y1="166.0" x2="182.15" y2="193.7" stroke="#4d4d4d" stroke-width="0.45"/>
<line x1="182.15" y1="213.6" x2="182.15" y2="217.0" stroke="#4d4d4d" stroke-width="0.45"/>
<rect x="180.00" y="193.7" width="4.3" height="19.90" fill="#C88B0F" stroke="#333" stroke-width="0.35"/>
<line x1="180.00" y1="211.8" x2="184.30" y2="211.8" stroke="#1a1a1a" stroke-width="0.9"/>
<line x1="186.45" y1="183.8" x2="186.45" y2="199.7" stroke="#4d4d4d" stroke-width="0.45"/>
<line x1="186.45" y1="213.8" x2="186.45" y2="218.0" stroke="#4d4d4d" stroke-width="0.45"/>
<rect x="184.30" y="199.7" width="4.3" height="14.10" fill="#9B9D0F" stroke="#333" stroke-width="0.35"/>
<line x1="184.30" y1="212.2" x2="188.60" y2="212.2" stroke="#1a1a1a" stroke-width="0.9"/>
<line x1="190.75" y1="204.0" x2="190.75" y2="210.2" stroke="#4d4d4d" stroke-width="0.45"/>
<line x1="190.75" y1="216.0" x2="190.75" y2="218.0" stroke="#4d4d4d" stroke-width="0.45"/>
<rect x="188.60" y="210.2" width="4.3" height="5.80" fill="#40AB0F" stroke="#333" stroke-width="0.35"/>
<line x1="188.60" y1="212.0" x2="192.90" y2="212.0" stroke="#1a1a1a" stroke-width="0.9"/>
<line x1="195.05" y1="206.0" x2="195.05" y2="211.0" stroke="#4d4d4d" stroke-width="0.45"/>
<line x1="195.05" y1="214.5" x2="195.05" y2="217.0" stroke="#4d4d4d" stroke-width="0.45"/>
<rect x="192.90" y="211.0" width="4.3" height="3.50" fill="#0FB37A" stroke="#333" stroke-width="0.35"/>
<line x1="192.90" y1="213.0" x2="197.20" y2="213.0" stroke="#1a1a1a" stroke-width="0.9"/>
<line x1="199.35" y1="203.0" x2="199.35" y2="209.4" stroke="#4d4d4d" stroke-width="0.45"/>
<line x1="199.35" y1="214.0" x2="199.35" y2="216.5" stroke="#4d4d4d" stroke-width="0.45"/>
<rect x="197.20" y="209.4" width="4.3" height="4.60" fill="#0FB3B7" stroke="#333" stroke-width="0.35"/>
<line x1="197.20" y1="212.0" x2="201.50" y2="212.0" stroke="#1a1a1a" stroke-width="0.9"/>
<line x1="203.65" y1="202.0" x2="203.65" y2="206.6" stroke="#4d4d4d" stroke-width="0.45"/>
<line x1="203.65" y1="212.6" x2="203.65" y2="216.0" stroke="#4d4d4d" stroke-width="0.45"/>
<rect x="201.50" y="206.6" width="4.3" height="6.00" fill="#0FA6E2" stroke="#333" stroke-width="0.35"/>
<line x1="201.50" y1="210.0" x2="205.80" y2="210.0" stroke="#1a1a1a" stroke-width="0.9"/>
<line x1="207.95" y1="206.0" x2="207.95" y2="211.0" stroke="#4d4d4d" stroke-width="0.45"/>
<line x1="207.95" y1="213.5" x2="207.95" y2="216.0" stroke="#4d4d4d" stroke-width="0.45"/>
<rect x="205.80" y="211.0" width="4.3" height="2.50" fill="#8F8BEA" stroke="#333" stroke-width="0.35"/>
<line x1="205.80" y1="212.5" x2="210.10" y2="212.5" stroke="#1a1a1a" stroke-width="0.9"/>
<line x1="212.25" y1="206.6" x2="212.25" y2="208.6" stroke="#4d4d4d" stroke-width="0.45"/>
<line x1="212.25" y1="213.6" x2="212.25" y2="216.0" stroke="#4d4d4d" stroke-width="0.45"/>
<rect x="210.10" y="208.6" width="4.3" height="5.00" fill="#D56BE0" stroke="#333" stroke-width="0.35"/>
<line x1="210.10" y1="211.5" x2="214.40" y2="211.5" stroke="#1a1a1a" stroke-width="0.9"/>
<line x1="216.55" y1="209.0" x2="216.55" y2="212.6" stroke="#4d4d4d" stroke-width="0.45"/>
<line x1="216.55" y1="214.2" x2="216.55" y2="216.0" stroke="#4d4d4d" stroke-width="0.45"/>
<rect x="214.40" y="212.6" width="4.3" height="1.60" fill="#EA63B0" stroke="#333" stroke-width="0.35"/>
<line x1="214.40" y1="213.6" x2="218.70" y2="213.6" stroke="#1a1a1a" stroke-width="0.9"/>
<circle cx="205.0" cy="196.0" r="0.55" fill="#555" opacity="0.7"/>
<circle cx="195.0" cy="200.0" r="0.55" fill="#555" opacity="0.7"/>
<line x1="37.35" y1="272.3" x2="37.35" y2="288.7" stroke="#4d4d4d" stroke-width="0.45"/>
<line x1="37.35" y1="302.5" x2="37.35" y2="305.4" stroke="#4d4d4d" stroke-width="0.45"/>
<rect x="35.20" y="288.7" width="4.3" height="13.80" fill="#E4746C" stroke="#333" stroke-width="0.35"/>
<line x1="35.20" y1="299.3" x2="39.50" y2="299.3" stroke="#1a1a1a" stroke-width="0.9"/>
<line x1="41.65" y1="276.7" x2="41.65" y2="289.5" stroke="#4d4d4d" stroke-width="0.45"/>
<line x1="41.65" y1="304.3" x2="41.65" y2="307.0" stroke="#4d4d4d" stroke-width="0.45"/>
<rect x="39.50" y="289.5" width="4.3" height="14.80" fill="#C88B0F" stroke="#333" stroke-width="0.35"/>
<line x1="39.50" y1="303.0" x2="43.80" y2="303.0" stroke="#1a1a1a" stroke-width="0.9"/>
<line x1="45.95" y1="241.5" x2="45.95" y2="269.0" stroke="#4d4d4d" stroke-width="0.45"/>
<line x1="45.95" y1="301.6" x2="45.95" y2="305.0" stroke="#4d4d4d" stroke-width="0.45"/>
<rect x="43.80" y="269.0" width="4.3" height="32.60" fill="#9B9D0F" stroke="#333" stroke-width="0.35"/>
<line x1="43.80" y1="300.2" x2="48.10" y2="300.2" stroke="#1a1a1a" stroke-width="0.9"/>
<line x1="50.25" y1="293.0" x2="50.25" y2="297.9" stroke="#4d4d4d" stroke-width="0.45"/>
<line x1="50.25" y1="302.0" x2="50.25" y2="305.0" stroke="#4d4d4d" stroke-width="0.45"/>
<rect x="48.10" y="297.9" width="4.3" height="4.10" fill="#40AB0F" stroke="#333" stroke-width="0.35"/>
<line x1="48.10" y1="300.6" x2="52.40" y2="300.6" stroke="#1a1a1a" stroke-width="0.9"/>
<line x1="54.55" y1="294.4" x2="54.55" y2="297.4" stroke="#4d4d4d" stroke-width="0.45"/>
<line x1="54.55" y1="302.9" x2="54.55" y2="305.5" stroke="#4d4d4d" stroke-width="0.45"/>
<rect x="52.40" y="297.4" width="4.3" height="5.50" fill="#0FB37A" stroke="#333" stroke-width="0.35"/>
<line x1="52.40" y1="300.0" x2="56.70" y2="300.0" stroke="#1a1a1a" stroke-width="0.9"/>
<line x1="58.85" y1="295.0" x2="58.85" y2="298.8" stroke="#4d4d4d" stroke-width="0.45"/>
<line x1="58.85" y1="302.9" x2="58.85" y2="305.0" stroke="#4d4d4d" stroke-width="0.45"/>
<rect x="56.70" y="298.8" width="4.3" height="4.10" fill="#0FB3B7" stroke="#333" stroke-width="0.35"/>
<line x1="56.70" y1="301.0" x2="61.00" y2="301.0" stroke="#1a1a1a" stroke-width="0.9"/>
<line x1="63.15" y1="295.0" x2="63.15" y2="298.3" stroke="#4d4d4d" stroke-width="0.45"/>
<line x1="63.15" y1="301.6" x2="63.15" y2="304.5" stroke="#4d4d4d" stroke-width="0.45"/>
<rect x="61.00" y="298.3" width="4.3" height="3.30" fill="#0FA6E2" stroke="#333" stroke-width="0.35"/>
<line x1="61.00" y1="300.0" x2="65.30" y2="300.0" stroke="#1a1a1a" stroke-width="0.9"/>
<line x1="67.45" y1="285.0" x2="67.45" y2="291.0" stroke="#4d4d4d" stroke-width="0.45"/>
<line x1="67.45" y1="302.9" x2="67.45" y2="306.0" stroke="#4d4d4d" stroke-width="0.45"/>
<rect x="65.30" y="291.0" width="4.3" height="11.90" fill="#8F8BEA" stroke="#333" stroke-width="0.35"/>
<line x1="65.30" y1="297.9" x2="69.60" y2="297.9" stroke="#1a1a1a" stroke-width="0.9"/>
<line x1="71.75" y1="286.0" x2="71.75" y2="291.9" stroke="#4d4d4d" stroke-width="0.45"/>
<line x1="71.75" y1="304.8" x2="71.75" y2="307.0" stroke="#4d4d4d" stroke-width="0.45"/>
<rect x="69.60" y="291.9" width="4.3" height="12.90" fill="#D56BE0" stroke="#333" stroke-width="0.35"/>
<line x1="69.60" y1="302.9" x2="73.90" y2="302.9" stroke="#1a1a1a" stroke-width="0.9"/>
<line x1="76.05" y1="278.2" x2="76.05" y2="291.0" stroke="#4d4d4d" stroke-width="0.45"/>
<line x1="76.05" y1="301.6" x2="76.05" y2="304.5" stroke="#4d4d4d" stroke-width="0.45"/>
<rect x="73.90" y="291.0" width="4.3" height="10.60" fill="#EA63B0" stroke="#333" stroke-width="0.35"/>
<line x1="73.90" y1="298.3" x2="78.20" y2="298.3" stroke="#1a1a1a" stroke-width="0.9"/>
<circle cx="36.6" cy="240.0" r="0.55" fill="#555" opacity="0.7"/>
<circle cx="67.5" cy="262.4" r="0.55" fill="#555" opacity="0.7"/>
<circle cx="57.0" cy="274.0" r="0.55" fill="#555" opacity="0.7"/>
<circle cx="62.0" cy="274.0" r="0.55" fill="#555" opacity="0.7"/>
<line x1="84.15" y1="301.0" x2="84.15" y2="303.5" stroke="#4d4d4d" stroke-width="0.45"/>
<line x1="84.15" y1="306.5" x2="84.15" y2="307.5" stroke="#4d4d4d" stroke-width="0.45"/>
<rect x="82.00" y="303.5" width="4.3" height="3.00" fill="#E4746C" stroke="#333" stroke-width="0.35"/>
<line x1="82.00" y1="305.0" x2="86.30" y2="305.0" stroke="#1a1a1a" stroke-width="0.9"/>
<line x1="88.45" y1="301.5" x2="88.45" y2="304.0" stroke="#4d4d4d" stroke-width="0.45"/>
<line x1="88.45" y1="306.5" x2="88.45" y2="307.5" stroke="#4d4d4d" stroke-width="0.45"/>
<rect x="86.30" y="304.0" width="4.3" height="2.50" fill="#C88B0F" stroke="#333" stroke-width="0.35"/>
<line x1="86.30" y1="305.0" x2="90.60" y2="305.0" stroke="#1a1a1a" stroke-width="0.9"/>
<line x1="92.75" y1="300.0" x2="92.75" y2="303.0" stroke="#4d4d4d" stroke-width="0.45"/>
<line x1="92.75" y1="306.0" x2="92.75" y2="307.5" stroke="#4d4d4d" stroke-width="0.45"/>
<rect x="90.60" y="303.0" width="4.3" height="3.00" fill="#9B9D0F" stroke="#333" stroke-width="0.35"/>
<line x1="90.60" y1="304.5" x2="94.90" y2="304.5" stroke="#1a1a1a" stroke-width="0.9"/>
<line x1="97.05" y1="299.0" x2="97.05" y2="302.5" stroke="#4d4d4d" stroke-width="0.45"/>
<line x1="97.05" y1="305.5" x2="97.05" y2="307.0" stroke="#4d4d4d" stroke-width="0.45"/>
<rect x="94.90" y="302.5" width="4.3" height="3.00" fill="#40AB0F" stroke="#333" stroke-width="0.35"/>
<line x1="94.90" y1="304.0" x2="99.20" y2="304.0" stroke="#1a1a1a" stroke-width="0.9"/>
<line x1="101.35" y1="299.0" x2="101.35" y2="302.0" stroke="#4d4d4d" stroke-width="0.45"/>
<line x1="101.35" y1="305.0" x2="101.35" y2="306.5" stroke="#4d4d4d" stroke-width="0.45"/>
<rect x="99.20" y="302.0" width="4.3" height="3.00" fill="#0FB37A" stroke="#333" stroke-width="0.35"/>
<line x1="99.20" y1="303.5" x2="103.50" y2="303.5" stroke="#1a1a1a" stroke-width="0.9"/>
<line x1="105.65" y1="299.0" x2="105.65" y2="302.0" stroke="#4d4d4d" stroke-width="0.45"/>
<line x1="105.65" y1="305.0" x2="105.65" y2="306.5" stroke="#4d4d4d" stroke-width="0.45"/>
<rect x="103.50" y="302.0" width="4.3" height="3.00" fill="#0FB3B7" stroke="#333" stroke-width="0.35"/>
<line x1="103.50" y1="303.5" x2="107.80" y2="303.5" stroke="#1a1a1a" stroke-width="0.9"/>
<line x1="109.95" y1="300.0" x2="109.95" y2="302.5" stroke="#4d4d4d" stroke-width="0.45"/>
<line x1="109.95" y1="305.0" x2="109.95" y2="306.5" stroke="#4d4d4d" stroke-width="0.45"/>
<rect x="107.80" y="302.5" width="4.3" height="2.50" fill="#0FA6E2" stroke="#333" stroke-width="0.35"/>
<line x1="107.80" y1="304.0" x2="112.10" y2="304.0" stroke="#1a1a1a" stroke-width="0.9"/>
<line x1="114.25" y1="300.5" x2="114.25" y2="303.0" stroke="#4d4d4d" stroke-width="0.45"/>
<line x1="114.25" y1="305.0" x2="114.25" y2="306.5" stroke="#4d4d4d" stroke-width="0.45"/>
<rect x="112.10" y="303.0" width="4.3" height="2.00" fill="#8F8BEA" stroke="#333" stroke-width="0.35"/>
<line x1="112.10" y1="304.0" x2="116.40" y2="304.0" stroke="#1a1a1a" stroke-width="0.9"/>
<line x1="118.55" y1="294.0" x2="118.55" y2="297.0" stroke="#4d4d4d" stroke-width="0.45"/>
<line x1="118.55" y1="303.0" x2="118.55" y2="305.0" stroke="#4d4d4d" stroke-width="0.45"/>
<rect x="116.40" y="297.0" width="4.3" height="6.00" fill="#D56BE0" stroke="#333" stroke-width="0.35"/>
<line x1="116.40" y1="301.0" x2="120.70" y2="301.0" stroke="#1a1a1a" stroke-width="0.9"/>
<line x1="122.85" y1="299.0" x2="122.85" y2="301.5" stroke="#4d4d4d" stroke-width="0.45"/>
<line x1="122.85" y1="303.0" x2="122.85" y2="304.5" stroke="#4d4d4d" stroke-width="0.45"/>
<rect x="120.70" y="301.5" width="4.3" height="1.50" fill="#EA63B0" stroke="#333" stroke-width="0.35"/>
<line x1="120.70" y1="302.2" x2="125.00" y2="302.2" stroke="#1a1a1a" stroke-width="0.9"/>
<circle cx="84.0" cy="296.0" r="0.55" fill="#555" opacity="0.7"/>
<circle cx="110.0" cy="292.0" r="0.55" fill="#555" opacity="0.7"/>
<line x1="130.95" y1="286.0" x2="130.95" y2="288.6" stroke="#4d4d4d" stroke-width="0.45"/>
<line x1="130.95" y1="303.4" x2="130.95" y2="306.5" stroke="#4d4d4d" stroke-width="0.45"/>
<rect x="128.80" y="288.6" width="4.3" height="14.80" fill="#E4746C" stroke="#333" stroke-width="0.35"/>
<line x1="128.80" y1="295.7" x2="133.10" y2="295.7" stroke="#1a1a1a" stroke-width="0.9"/>
<line x1="135.25" y1="292.0" x2="135.25" y2="296.3" stroke="#4d4d4d" stroke-width="0.45"/>
<line x1="135.25" y1="304.0" x2="135.25" y2="306.5" stroke="#4d4d4d" stroke-width="0.45"/>
<rect x="133.10" y="296.3" width="4.3" height="7.70" fill="#C88B0F" stroke="#333" stroke-width="0.35"/>
<line x1="133.10" y1="300.2" x2="137.40" y2="300.2" stroke="#1a1a1a" stroke-width="0.9"/>
<line x1="139.55" y1="289.3" x2="139.55" y2="296.3" stroke="#4d4d4d" stroke-width="0.45"/>
<line x1="139.55" y1="304.0" x2="139.55" y2="306.5" stroke="#4d4d4d" stroke-width="0.45"/>
<rect x="137.40" y="296.3" width="4.3" height="7.70" fill="#9B9D0F" stroke="#333" stroke-width="0.35"/>
<line x1="137.40" y1="300.2" x2="141.70" y2="300.2" stroke="#1a1a1a" stroke-width="0.9"/>
<line x1="143.85" y1="297.0" x2="143.85" y2="300.2" stroke="#4d4d4d" stroke-width="0.45"/>
<line x1="143.85" y1="303.6" x2="143.85" y2="306.0" stroke="#4d4d4d" stroke-width="0.45"/>
<rect x="141.70" y="300.2" width="4.3" height="3.40" fill="#40AB0F" stroke="#333" stroke-width="0.35"/>
<line x1="141.70" y1="302.0" x2="146.00" y2="302.0" stroke="#1a1a1a" stroke-width="0.9"/>
<line x1="148.15" y1="298.0" x2="148.15" y2="301.5" stroke="#4d4d4d" stroke-width="0.45"/>
<line x1="148.15" y1="304.0" x2="148.15" y2="306.0" stroke="#4d4d4d" stroke-width="0.45"/>
<rect x="146.00" y="301.5" width="4.3" height="2.50" fill="#0FB37A" stroke="#333" stroke-width="0.35"/>
<line x1="146.00" y1="303.0" x2="150.30" y2="303.0" stroke="#1a1a1a" stroke-width="0.9"/>
<line x1="152.45" y1="297.0" x2="152.45" y2="300.8" stroke="#4d4d4d" stroke-width="0.45"/>
<line x1="152.45" y1="305.3" x2="152.45" y2="307.0" stroke="#4d4d4d" stroke-width="0.45"/>
<rect x="150.30" y="300.8" width="4.3" height="4.50" fill="#0FB3B7" stroke="#333" stroke-width="0.35"/>
<line x1="150.30" y1="303.0" x2="154.60" y2="303.0" stroke="#1a1a1a" stroke-width="0.9"/>
<line x1="156.75" y1="298.5" x2="156.75" y2="301.5" stroke="#4d4d4d" stroke-width="0.45"/>
<line x1="156.75" y1="304.5" x2="156.75" y2="306.5" stroke="#4d4d4d" stroke-width="0.45"/>
<rect x="154.60" y="301.5" width="4.3" height="3.00" fill="#0FA6E2" stroke="#333" stroke-width="0.35"/>
<line x1="154.60" y1="303.0" x2="158.90" y2="303.0" stroke="#1a1a1a" stroke-width="0.9"/>
<line x1="161.05" y1="300.0" x2="161.05" y2="302.0" stroke="#4d4d4d" stroke-width="0.45"/>
<line x1="161.05" y1="304.0" x2="161.05" y2="305.5" stroke="#4d4d4d" stroke-width="0.45"/>
<rect x="158.90" y="302.0" width="4.3" height="2.00" fill="#8F8BEA" stroke="#333" stroke-width="0.35"/>
<line x1="158.90" y1="303.0" x2="163.20" y2="303.0" stroke="#1a1a1a" stroke-width="0.9"/>
<line x1="165.35" y1="298.0" x2="165.35" y2="301.0" stroke="#4d4d4d" stroke-width="0.45"/>
<line x1="165.35" y1="304.0" x2="165.35" y2="306.0" stroke="#4d4d4d" stroke-width="0.45"/>
<rect x="163.20" y="301.0" width="4.3" height="3.00" fill="#D56BE0" stroke="#333" stroke-width="0.35"/>
<line x1="163.20" y1="302.5" x2="167.50" y2="302.5" stroke="#1a1a1a" stroke-width="0.9"/>
<line x1="169.65" y1="286.7" x2="169.65" y2="291.8" stroke="#4d4d4d" stroke-width="0.45"/>
<line x1="169.65" y1="301.5" x2="169.65" y2="304.5" stroke="#4d4d4d" stroke-width="0.45"/>
<rect x="167.50" y="291.8" width="4.3" height="9.70" fill="#EA63B0" stroke="#333" stroke-width="0.35"/>
<line x1="167.50" y1="297.0" x2="171.80" y2="297.0" stroke="#1a1a1a" stroke-width="0.9"/>
<circle cx="135.0" cy="287.0" r="0.55" fill="#555" opacity="0.7"/>
<circle cx="148.0" cy="292.0" r="0.55" fill="#555" opacity="0.7"/>
<line x1="177.85" y1="291.2" x2="177.85" y2="299.6" stroke="#4d4d4d" stroke-width="0.45"/>
<line x1="177.85" y1="304.0" x2="177.85" y2="306.0" stroke="#4d4d4d" stroke-width="0.45"/>
<rect x="175.70" y="299.6" width="4.3" height="4.40" fill="#E4746C" stroke="#333" stroke-width="0.35"/>
<line x1="175.70" y1="301.5" x2="180.00" y2="301.5" stroke="#1a1a1a" stroke-width="0.9"/>
<line x1="182.15" y1="295.0" x2="182.15" y2="300.0" stroke="#4d4d4d" stroke-width="0.45"/>
<line x1="182.15" y1="304.0" x2="182.15" y2="306.0" stroke="#4d4d4d" stroke-width="0.45"/>
<rect x="180.00" y="300.0" width="4.3" height="4.00" fill="#C88B0F" stroke="#333" stroke-width="0.35"/>
<line x1="180.00" y1="302.0" x2="184.30" y2="302.0" stroke="#1a1a1a" stroke-width="0.9"/>
<line x1="186.45" y1="294.0" x2="186.45" y2="299.0" stroke="#4d4d4d" stroke-width="0.45"/>
<line x1="186.45" y1="304.0" x2="186.45" y2="306.0" stroke="#4d4d4d" stroke-width="0.45"/>
<rect x="184.30" y="299.0" width="4.3" height="5.00" fill="#9B9D0F" stroke="#333" stroke-width="0.35"/>
<line x1="184.30" y1="301.5" x2="188.60" y2="301.5" stroke="#1a1a1a" stroke-width="0.9"/>
<line x1="190.75" y1="296.0" x2="190.75" y2="300.0" stroke="#4d4d4d" stroke-width="0.45"/>
<line x1="190.75" y1="304.0" x2="190.75" y2="306.0" stroke="#4d4d4d" stroke-width="0.45"/>
<rect x="188.60" y="300.0" width="4.3" height="4.00" fill="#40AB0F" stroke="#333" stroke-width="0.35"/>
<line x1="188.60" y1="302.0" x2="192.90" y2="302.0" stroke="#1a1a1a" stroke-width="0.9"/>
<line x1="195.05" y1="296.0" x2="195.05" y2="300.0" stroke="#4d4d4d" stroke-width="0.45"/>
<line x1="195.05" y1="304.0" x2="195.05" y2="306.0" stroke="#4d4d4d" stroke-width="0.45"/>
<rect x="192.90" y="300.0" width="4.3" height="4.00" fill="#0FB37A" stroke="#333" stroke-width="0.35"/>
<line x1="192.90" y1="302.0" x2="197.20" y2="302.0" stroke="#1a1a1a" stroke-width="0.9"/>
<line x1="199.35" y1="296.0" x2="199.35" y2="300.0" stroke="#4d4d4d" stroke-width="0.45"/>
<line x1="199.35" y1="303.0" x2="199.35" y2="305.0" stroke="#4d4d4d" stroke-width="0.45"/>
<rect x="197.20" y="300.0" width="4.3" height="3.00" fill="#0FB3B7" stroke="#333" stroke-width="0.35"/>
<line x1="197.20" y1="301.5" x2="201.50" y2="301.5" stroke="#1a1a1a" stroke-width="0.9"/>
<line x1="203.65" y1="296.0" x2="203.65" y2="300.0" stroke="#4d4d4d" stroke-width="0.45"/>
<line x1="203.65" y1="303.0" x2="203.65" y2="305.0" stroke="#4d4d4d" stroke-width="0.45"/>
<rect x="201.50" y="300.0" width="4.3" height="3.00" fill="#0FA6E2" stroke="#333" stroke-width="0.35"/>
<line x1="201.50" y1="301.5" x2="205.80" y2="301.5" stroke="#1a1a1a" stroke-width="0.9"/>
<line x1="207.95" y1="298.0" x2="207.95" y2="301.0" stroke="#4d4d4d" stroke-width="0.45"/>
<line x1="207.95" y1="304.0" x2="207.95" y2="305.5" stroke="#4d4d4d" stroke-width="0.45"/>
<rect x="205.80" y="301.0" width="4.3" height="3.00" fill="#8F8BEA" stroke="#333" stroke-width="0.35"/>
<line x1="205.80" y1="302.5" x2="210.10" y2="302.5" stroke="#1a1a1a" stroke-width="0.9"/>
<line x1="212.25" y1="295.0" x2="212.25" y2="299.0" stroke="#4d4d4d" stroke-width="0.45"/>
<line x1="212.25" y1="302.0" x2="212.25" y2="304.5" stroke="#4d4d4d" stroke-width="0.45"/>
<rect x="210.10" y="299.0" width="4.3" height="3.00" fill="#D56BE0" stroke="#333" stroke-width="0.35"/>
<line x1="210.10" y1="300.5" x2="214.40" y2="300.5" stroke="#1a1a1a" stroke-width="0.9"/>
<line x1="216.55" y1="289.0" x2="216.55" y2="293.1" stroke="#4d4d4d" stroke-width="0.45"/>
<line x1="216.55" y1="304.0" x2="216.55" y2="306.0" stroke="#4d4d4d" stroke-width="0.45"/>
<rect x="214.40" y="293.1" width="4.3" height="10.90" fill="#EA63B0" stroke="#333" stroke-width="0.35"/>
<line x1="214.40" y1="297.0" x2="218.70" y2="297.0" stroke="#1a1a1a" stroke-width="0.9"/>
<circle cx="185.0" cy="282.0" r="0.55" fill="#555" opacity="0.7"/>
<circle cx="190.0" cy="288.0" r="0.55" fill="#555" opacity="0.7"/>
<rect x="286.3" y="133.3" width="45.80000000000001" height="179.0" fill="#ECECEC"/>
<line x1="286.3" y1="298.625" x2="332.1" y2="298.625" stroke="#fff" stroke-width="0.35"/>
<line x1="286.3" y1="268.375" x2="332.1" y2="268.375" stroke="#fff" stroke-width="0.35"/>
<line x1="286.3" y1="238.125" x2="332.1" y2="238.125" stroke="#fff" stroke-width="0.35"/>
<line x1="286.3" y1="207.875" x2="332.1" y2="207.875" stroke="#fff" stroke-width="0.35"/>
<line x1="286.3" y1="177.625" x2="332.1" y2="177.625" stroke="#fff" stroke-width="0.35"/>
<line x1="286.3" y1="147.375" x2="332.1" y2="147.375" stroke="#fff" stroke-width="0.35"/>
<line x1="286.3" y1="283.5" x2="332.1" y2="283.5" stroke="#fff" stroke-width="0.7"/>
<line x1="286.3" y1="253.25" x2="332.1" y2="253.25" stroke="#fff" stroke-width="0.7"/>
<line x1="286.3" y1="223.0" x2="332.1" y2="223.0" stroke="#fff" stroke-width="0.7"/>
<line x1="286.3" y1="192.75" x2="332.1" y2="192.75" stroke="#fff" stroke-width="0.7"/>
<line x1="286.3" y1="162.5" x2="332.1" y2="162.5" stroke="#fff" stroke-width="0.7"/>
<rect x="333.5" y="133.3" width="45.80000000000001" height="179.0" fill="#ECECEC"/>
<line x1="333.5" y1="298.625" x2="379.3" y2="298.625" stroke="#fff" stroke-width="0.35"/>
<line x1="333.5" y1="268.375" x2="379.3" y2="268.375" stroke="#fff" stroke-width="0.35"/>
<line x1="333.5" y1="238.125" x2="379.3" y2="238.125" stroke="#fff" stroke-width="0.35"/>
<line x1="333.5" y1="207.875" x2="379.3" y2="207.875" stroke="#fff" stroke-width="0.35"/>
<line x1="333.5" y1="177.625" x2="379.3" y2="177.625" stroke="#fff" stroke-width="0.35"/>
<line x1="333.5" y1="147.375" x2="379.3" y2="147.375" stroke="#fff" stroke-width="0.35"/>
<line x1="333.5" y1="283.5" x2="379.3" y2="283.5" stroke="#fff" stroke-width="0.7"/>
<line x1="333.5" y1="253.25" x2="379.3" y2="253.25" stroke="#fff" stroke-width="0.7"/>
<line x1="333.5" y1="223.0" x2="379.3" y2="223.0" stroke="#fff" stroke-width="0.7"/>
<line x1="333.5" y1="192.75" x2="379.3" y2="192.75" stroke="#fff" stroke-width="0.7"/>
<line x1="333.5" y1="162.5" x2="379.3" y2="162.5" stroke="#fff" stroke-width="0.7"/>
<rect x="380.7" y="133.3" width="45.80000000000001" height="179.0" fill="#ECECEC"/>
<line x1="380.7" y1="298.625" x2="426.5" y2="298.625" stroke="#fff" stroke-width="0.35"/>
<line x1="380.7" y1="268.375" x2="426.5" y2="268.375" stroke="#fff" stroke-width="0.35"/>
<line x1="380.7" y1="238.125" x2="426.5" y2="238.125" stroke="#fff" stroke-width="0.35"/>
<line x1="380.7" y1="207.875" x2="426.5" y2="207.875" stroke="#fff" stroke-width="0.35"/>
<line x1="380.7" y1="177.625" x2="426.5" y2="177.625" stroke="#fff" stroke-width="0.35"/>
<line x1="380.7" y1="147.375" x2="426.5" y2="147.375" stroke="#fff" stroke-width="0.35"/>
<line x1="380.7" y1="283.5" x2="426.5" y2="283.5" stroke="#fff" stroke-width="0.7"/>
<line x1="380.7" y1="253.25" x2="426.5" y2="253.25" stroke="#fff" stroke-width="0.7"/>
<line x1="380.7" y1="223.0" x2="426.5" y2="223.0" stroke="#fff" stroke-width="0.7"/>
<line x1="380.7" y1="192.75" x2="426.5" y2="192.75" stroke="#fff" stroke-width="0.7"/>
<line x1="380.7" y1="162.5" x2="426.5" y2="162.5" stroke="#fff" stroke-width="0.7"/>
<rect x="427.9" y="133.3" width="45.80000000000001" height="179.0" fill="#ECECEC"/>
<line x1="427.9" y1="298.625" x2="473.7" y2="298.625" stroke="#fff" stroke-width="0.35"/>
<line x1="427.9" y1="268.375" x2="473.7" y2="268.375" stroke="#fff" stroke-width="0.35"/>
<line x1="427.9" y1="238.125" x2="473.7" y2="238.125" stroke="#fff" stroke-width="0.35"/>
<line x1="427.9" y1="207.875" x2="473.7" y2="207.875" stroke="#fff" stroke-width="0.35"/>
<line x1="427.9" y1="177.625" x2="473.7" y2="177.625" stroke="#fff" stroke-width="0.35"/>
<line x1="427.9" y1="147.375" x2="473.7" y2="147.375" stroke="#fff" stroke-width="0.35"/>
<line x1="427.9" y1="283.5" x2="473.7" y2="283.5" stroke="#fff" stroke-width="0.7"/>
<line x1="427.9" y1="253.25" x2="473.7" y2="253.25" stroke="#fff" stroke-width="0.7"/>
<line x1="427.9" y1="223.0" x2="473.7" y2="223.0" stroke="#fff" stroke-width="0.7"/>
<line x1="427.9" y1="192.75" x2="473.7" y2="192.75" stroke="#fff" stroke-width="0.7"/>
<line x1="427.9" y1="162.5" x2="473.7" y2="162.5" stroke="#fff" stroke-width="0.7"/>
<line x1="284.5" y1="283.50" x2="286.3" y2="283.50" stroke="#333" stroke-width="0.5"/>
<text x="283.1" y="285.8" font-size="6.5" text-anchor="end" fill="#4d4d4d" font-weight="normal" stroke="#4d4d4d" stroke-width="0.143">20</text>
<line x1="284.5" y1="253.25" x2="286.3" y2="253.25" stroke="#333" stroke-width="0.5"/>
<text x="283.1" y="255.55" font-size="6.5" text-anchor="end" fill="#4d4d4d" font-weight="normal" stroke="#4d4d4d" stroke-width="0.143">40</text>
<line x1="284.5" y1="223.00" x2="286.3" y2="223.00" stroke="#333" stroke-width="0.5"/>
<text x="283.1" y="225.3" font-size="6.5" text-anchor="end" fill="#4d4d4d" font-weight="normal" stroke="#4d4d4d" stroke-width="0.143">60</text>
<line x1="284.5" y1="192.75" x2="286.3" y2="192.75" stroke="#333" stroke-width="0.5"/>
<text x="283.1" y="195.05" font-size="6.5" text-anchor="end" fill="#4d4d4d" font-weight="normal" stroke="#4d4d4d" stroke-width="0.143">80</text>
<line x1="284.5" y1="162.50" x2="286.3" y2="162.50" stroke="#333" stroke-width="0.5"/>
<text x="283.1" y="164.8" font-size="6.5" text-anchor="end" fill="#4d4d4d" font-weight="normal" stroke="#4d4d4d" stroke-width="0.143">100</text>
<rect x="286.3" y="121.5" width="45.80000000000001" height="11.599999999999994" fill="#D6D6D6"/>
<text x="309.20000000000005" y="126.5" font-size="4.9" text-anchor="middle" fill="#1a1a1a" font-weight="normal" stroke="#1a1a1a" stroke-width="0.108">Standard arm</text>
<text x="309.20000000000005" y="131.5" font-size="4.95" text-anchor="middle" fill="#1a1a1a" font-weight="normal" stroke="#1a1a1a" stroke-width="0.109">Early progressors</text>
<rect x="333.5" y="121.5" width="45.80000000000001" height="11.599999999999994" fill="#D6D6D6"/>
<text x="356.4" y="126.5" font-size="4.9" text-anchor="middle" fill="#1a1a1a" font-weight="normal" stroke="#1a1a1a" stroke-width="0.108">Standard arm</text>
<text x="356.4" y="131.5" font-size="4.95" text-anchor="middle" fill="#1a1a1a" font-weight="normal" stroke="#1a1a1a" stroke-width="0.109">Late progressors</text>
<rect x="380.7" y="121.5" width="45.80000000000001" height="11.599999999999994" fill="#D6D6D6"/>
<text x="403.6" y="126.5" font-size="4.9" text-anchor="middle" fill="#1a1a1a" font-weight="normal" stroke="#1a1a1a" stroke-width="0.108">Experimental arm</text>
<text x="403.6" y="131.5" font-size="4.95" text-anchor="middle" fill="#1a1a1a" font-weight="normal" stroke="#1a1a1a" stroke-width="0.109">Early progressors</text>
<rect x="427.9" y="121.5" width="45.80000000000001" height="11.599999999999994" fill="#D6D6D6"/>
<text x="450.79999999999995" y="126.5" font-size="4.9" text-anchor="middle" fill="#1a1a1a" font-weight="normal" stroke="#1a1a1a" stroke-width="0.108">Experimental arm</text>
<text x="450.79999999999995" y="131.5" font-size="4.95" text-anchor="middle" fill="#1a1a1a" font-weight="normal" stroke="#1a1a1a" stroke-width="0.109">Late progressors</text>
<text x="270.1" y="223.1" font-size="7.05" text-anchor="middle" fill="#000" font-weight="normal" stroke="#000" stroke-width="0.080" transform="rotate(-90 270.1 223.1)">FLT4 (ng/mL)</text>
<line x1="290.25" y1="178.9" x2="290.25" y2="211.0" stroke="#4d4d4d" stroke-width="0.45"/>
<line x1="290.25" y1="244.5" x2="290.25" y2="288.8" stroke="#4d4d4d" stroke-width="0.45"/>
<rect x="288.10" y="211.0" width="4.3" height="33.50" fill="#E4746C" stroke="#333" stroke-width="0.35"/>
<line x1="288.10" y1="230.1" x2="292.40" y2="230.1" stroke="#1a1a1a" stroke-width="0.9"/>
<line x1="294.55" y1="173.5" x2="294.55" y2="205.9" stroke="#4d4d4d" stroke-width="0.45"/>
<line x1="294.55" y1="245.5" x2="294.55" y2="288.8" stroke="#4d4d4d" stroke-width="0.45"/>
<rect x="292.40" y="205.9" width="4.3" height="39.60" fill="#C88B0F" stroke="#333" stroke-width="0.35"/>
<line x1="292.40" y1="234.5" x2="296.70" y2="234.5" stroke="#1a1a1a" stroke-width="0.9"/>
<line x1="298.85" y1="164.0" x2="298.85" y2="209.5" stroke="#4d4d4d" stroke-width="0.45"/>
<line x1="298.85" y1="246.0" x2="298.85" y2="288.8" stroke="#4d4d4d" stroke-width="0.45"/>
<rect x="296.70" y="209.5" width="4.3" height="36.50" fill="#9B9D0F" stroke="#333" stroke-width="0.35"/>
<line x1="296.70" y1="231.6" x2="301.00" y2="231.6" stroke="#1a1a1a" stroke-width="0.9"/>
<line x1="303.15" y1="206.0" x2="303.15" y2="220.6" stroke="#4d4d4d" stroke-width="0.45"/>
<line x1="303.15" y1="249.1" x2="303.15" y2="283.8" stroke="#4d4d4d" stroke-width="0.45"/>
<rect x="301.00" y="220.6" width="4.3" height="28.50" fill="#40AB0F" stroke="#333" stroke-width="0.35"/>
<line x1="301.00" y1="235.2" x2="305.30" y2="235.2" stroke="#1a1a1a" stroke-width="0.9"/>
<line x1="307.45" y1="208.0" x2="307.45" y2="222.0" stroke="#4d4d4d" stroke-width="0.45"/>
<line x1="307.45" y1="247.0" x2="307.45" y2="276.5" stroke="#4d4d4d" stroke-width="0.45"/>
<rect x="305.30" y="222.0" width="4.3" height="25.00" fill="#0FB37A" stroke="#333" stroke-width="0.35"/>
<line x1="305.30" y1="238.9" x2="309.60" y2="238.9" stroke="#1a1a1a" stroke-width="0.9"/>
<line x1="311.75" y1="184.9" x2="311.75" y2="219.1" stroke="#4d4d4d" stroke-width="0.45"/>
<line x1="311.75" y1="248.5" x2="311.75" y2="287.8" stroke="#4d4d4d" stroke-width="0.45"/>
<rect x="309.60" y="219.1" width="4.3" height="29.40" fill="#0FB3B7" stroke="#333" stroke-width="0.35"/>
<line x1="309.60" y1="236.0" x2="313.90" y2="236.0" stroke="#1a1a1a" stroke-width="0.9"/>
<line x1="316.05" y1="203.8" x2="316.05" y2="226.4" stroke="#4d4d4d" stroke-width="0.45"/>
<line x1="316.05" y1="249.0" x2="316.05" y2="274.9" stroke="#4d4d4d" stroke-width="0.45"/>
<rect x="313.90" y="226.4" width="4.3" height="22.60" fill="#0FA6E2" stroke="#333" stroke-width="0.35"/>
<line x1="313.90" y1="237.4" x2="318.20" y2="237.4" stroke="#1a1a1a" stroke-width="0.9"/>
<line x1="320.35" y1="193.8" x2="320.35" y2="225.0" stroke="#4d4d4d" stroke-width="0.45"/>
<line x1="320.35" y1="254.5" x2="320.35" y2="259.9" stroke="#4d4d4d" stroke-width="0.45"/>
<rect x="318.20" y="225.0" width="4.3" height="29.50" fill="#8F8BEA" stroke="#333" stroke-width="0.35"/>
<line x1="318.20" y1="238.2" x2="322.50" y2="238.2" stroke="#1a1a1a" stroke-width="0.9"/>
<line x1="324.65" y1="205.0" x2="324.65" y2="226.4" stroke="#4d4d4d" stroke-width="0.45"/>
<line x1="324.65" y1="247.5" x2="324.65" y2="252.0" stroke="#4d4d4d" stroke-width="0.45"/>
<rect x="322.50" y="226.4" width="4.3" height="21.10" fill="#D56BE0" stroke="#333" stroke-width="0.35"/>
<line x1="322.50" y1="236.0" x2="326.80" y2="236.0" stroke="#1a1a1a" stroke-width="0.9"/>
<line x1="328.95" y1="196.8" x2="328.95" y2="226.4" stroke="#4d4d4d" stroke-width="0.45"/>
<line x1="328.95" y1="242.5" x2="328.95" y2="261.9" stroke="#4d4d4d" stroke-width="0.45"/>
<rect x="326.80" y="226.4" width="4.3" height="16.10" fill="#EA63B0" stroke="#333" stroke-width="0.35"/>
<line x1="326.80" y1="237.9" x2="331.10" y2="237.9" stroke="#1a1a1a" stroke-width="0.9"/>
<circle cx="290.1" cy="140.7" r="0.55" fill="#555" opacity="0.7"/>
<circle cx="290.1" cy="157.8" r="0.55" fill="#555" opacity="0.7"/>
<circle cx="303.1" cy="170.2" r="0.55" fill="#555" opacity="0.7"/>
<circle cx="307.5" cy="173.8" r="0.55" fill="#555" opacity="0.7"/>
<circle cx="328.8" cy="197.8" r="0.55" fill="#555" opacity="0.7"/>
<circle cx="316.0" cy="300.0" r="0.55" fill="#555" opacity="0.7"/>
<line x1="337.45" y1="218.5" x2="337.45" y2="230.2" stroke="#4d4d4d" stroke-width="0.45"/>
<line x1="337.45" y1="247.0" x2="337.45" y2="269.9" stroke="#4d4d4d" stroke-width="0.45"/>
<rect x="335.30" y="230.2" width="4.3" height="16.80" fill="#E4746C" stroke="#333" stroke-width="0.35"/>
<line x1="335.30" y1="245.3" x2="339.60" y2="245.3" stroke="#1a1a1a" stroke-width="0.9"/>
<line x1="341.75" y1="202.0" x2="341.75" y2="225.1" stroke="#4d4d4d" stroke-width="0.45"/>
<line x1="341.75" y1="253.5" x2="341.75" y2="265.9" stroke="#4d4d4d" stroke-width="0.45"/>
<rect x="339.60" y="225.1" width="4.3" height="28.40" fill="#C88B0F" stroke="#333" stroke-width="0.35"/>
<line x1="339.60" y1="237.6" x2="343.90" y2="237.6" stroke="#1a1a1a" stroke-width="0.9"/>
<line x1="346.05" y1="203.0" x2="346.05" y2="224.4" stroke="#4d4d4d" stroke-width="0.45"/>
<line x1="346.05" y1="249.0" x2="346.05" y2="271.9" stroke="#4d4d4d" stroke-width="0.45"/>
<rect x="343.90" y="224.4" width="4.3" height="24.60" fill="#9B9D0F" stroke="#333" stroke-width="0.35"/>
<line x1="343.90" y1="234.6" x2="348.20" y2="234.6" stroke="#1a1a1a" stroke-width="0.9"/>
<line x1="350.35" y1="219.2" x2="350.35" y2="229.5" stroke="#4d4d4d" stroke-width="0.45"/>
<line x1="350.35" y1="248.0" x2="350.35" y2="260.0" stroke="#4d4d4d" stroke-width="0.45"/>
<rect x="348.20" y="229.5" width="4.3" height="18.50" fill="#40AB0F" stroke="#333" stroke-width="0.35"/>
<line x1="348.20" y1="240.9" x2="352.50" y2="240.9" stroke="#1a1a1a" stroke-width="0.9"/>
<line x1="354.65" y1="213.4" x2="354.65" y2="236.1" stroke="#4d4d4d" stroke-width="0.45"/>
<line x1="354.65" y1="253.0" x2="354.65" y2="278.8" stroke="#4d4d4d" stroke-width="0.45"/>
<rect x="352.50" y="236.1" width="4.3" height="16.90" fill="#0FB37A" stroke="#333" stroke-width="0.35"/>
<line x1="352.50" y1="244.5" x2="356.80" y2="244.5" stroke="#1a1a1a" stroke-width="0.9"/>
<line x1="358.95" y1="209.0" x2="358.95" y2="220.7" stroke="#4d4d4d" stroke-width="0.45"/>
<line x1="358.95" y1="250.5" x2="358.95" y2="262.0" stroke="#4d4d4d" stroke-width="0.45"/>
<rect x="356.80" y="220.7" width="4.3" height="29.80" fill="#0FB3B7" stroke="#333" stroke-width="0.35"/>
<line x1="356.80" y1="227.3" x2="361.10" y2="227.3" stroke="#1a1a1a" stroke-width="0.9"/>
<line x1="363.25" y1="202.8" x2="363.25" y2="234.6" stroke="#4d4d4d" stroke-width="0.45"/>
<line x1="363.25" y1="264.9" x2="363.25" y2="278.8" stroke="#4d4d4d" stroke-width="0.45"/>
<rect x="361.10" y="234.6" width="4.3" height="30.30" fill="#0FA6E2" stroke="#333" stroke-width="0.35"/>
<line x1="361.10" y1="245.3" x2="365.40" y2="245.3" stroke="#1a1a1a" stroke-width="0.9"/>
<line x1="367.55" y1="231.0" x2="367.55" y2="239.8" stroke="#4d4d4d" stroke-width="0.45"/>
<line x1="367.55" y1="250.0" x2="367.55" y2="260.0" stroke="#4d4d4d" stroke-width="0.45"/>
<rect x="365.40" y="239.8" width="4.3" height="10.20" fill="#8F8BEA" stroke="#333" stroke-width="0.35"/>
<line x1="365.40" y1="246.0" x2="369.70" y2="246.0" stroke="#1a1a1a" stroke-width="0.9"/>
<line x1="371.85" y1="228.0" x2="371.85" y2="240.5" stroke="#4d4d4d" stroke-width="0.45"/>
<line x1="371.85" y1="255.0" x2="371.85" y2="267.9" stroke="#4d4d4d" stroke-width="0.45"/>
<rect x="369.70" y="240.5" width="4.3" height="14.50" fill="#D56BE0" stroke="#333" stroke-width="0.35"/>
<line x1="369.70" y1="249.7" x2="374.00" y2="249.7" stroke="#1a1a1a" stroke-width="0.9"/>
<line x1="376.15" y1="222.9" x2="376.15" y2="236.1" stroke="#4d4d4d" stroke-width="0.45"/>
<line x1="376.15" y1="250.0" x2="376.15" y2="261.0" stroke="#4d4d4d" stroke-width="0.45"/>
<rect x="374.00" y="236.1" width="4.3" height="13.90" fill="#EA63B0" stroke="#333" stroke-width="0.35"/>
<line x1="374.00" y1="245.3" x2="378.30" y2="245.3" stroke="#1a1a1a" stroke-width="0.9"/>
<circle cx="345.4" cy="179.9" r="0.55" fill="#555" opacity="0.7"/>
<circle cx="337.0" cy="197.8" r="0.55" fill="#555" opacity="0.7"/>
<circle cx="366.9" cy="287.8" r="0.55" fill="#555" opacity="0.7"/>
<circle cx="371.8" cy="285.4" r="0.55" fill="#555" opacity="0.7"/>
<line x1="384.65" y1="168.9" x2="384.65" y2="211.3" stroke="#4d4d4d" stroke-width="0.45"/>
<line x1="384.65" y1="239.7" x2="384.65" y2="259.5" stroke="#4d4d4d" stroke-width="0.45"/>
<rect x="382.50" y="211.3" width="4.3" height="28.40" fill="#E4746C" stroke="#333" stroke-width="0.35"/>
<line x1="382.50" y1="224.5" x2="386.80" y2="224.5" stroke="#1a1a1a" stroke-width="0.9"/>
<line x1="388.95" y1="175.8" x2="388.95" y2="204.0" stroke="#4d4d4d" stroke-width="0.45"/>
<line x1="388.95" y1="246.3" x2="388.95" y2="252.9" stroke="#4d4d4d" stroke-width="0.45"/>
<rect x="386.80" y="204.0" width="4.3" height="42.30" fill="#C88B0F" stroke="#333" stroke-width="0.35"/>
<line x1="386.80" y1="239.0" x2="391.10" y2="239.0" stroke="#1a1a1a" stroke-width="0.9"/>
<line x1="393.25" y1="189.6" x2="393.25" y2="212.8" stroke="#4d4d4d" stroke-width="0.45"/>
<line x1="393.25" y1="241.2" x2="393.25" y2="255.8" stroke="#4d4d4d" stroke-width="0.45"/>
<rect x="391.10" y="212.8" width="4.3" height="28.40" fill="#9B9D0F" stroke="#333" stroke-width="0.35"/>
<line x1="391.10" y1="234.8" x2="395.40" y2="234.8" stroke="#1a1a1a" stroke-width="0.9"/>
<line x1="397.55" y1="186.0" x2="397.55" y2="225.2" stroke="#4d4d4d" stroke-width="0.45"/>
<line x1="397.55" y1="241.2" x2="397.55" y2="254.0" stroke="#4d4d4d" stroke-width="0.45"/>
<rect x="395.40" y="225.2" width="4.3" height="16.00" fill="#40AB0F" stroke="#333" stroke-width="0.35"/>
<line x1="395.40" y1="236.0" x2="399.70" y2="236.0" stroke="#1a1a1a" stroke-width="0.9"/>
<line x1="401.85" y1="240.0" x2="401.85" y2="248.5" stroke="#4d4d4d" stroke-width="0.45"/>
<line x1="401.85" y1="264.5" x2="401.85" y2="275.0" stroke="#4d4d4d" stroke-width="0.45"/>
<rect x="399.70" y="248.5" width="4.3" height="16.00" fill="#0FB37A" stroke="#333" stroke-width="0.35"/>
<line x1="399.70" y1="261.5" x2="404.00" y2="261.5" stroke="#1a1a1a" stroke-width="0.9"/>
<line x1="406.15" y1="236.0" x2="406.15" y2="246.8" stroke="#4d4d4d" stroke-width="0.45"/>
<line x1="406.15" y1="262.5" x2="406.15" y2="270.0" stroke="#4d4d4d" stroke-width="0.45"/>
<rect x="404.00" y="246.8" width="4.3" height="15.70" fill="#0FB3B7" stroke="#333" stroke-width="0.35"/>
<line x1="404.00" y1="255.8" x2="408.30" y2="255.8" stroke="#1a1a1a" stroke-width="0.9"/>
<line x1="410.45" y1="250.0" x2="410.45" y2="254.5" stroke="#4d4d4d" stroke-width="0.45"/>
<line x1="410.45" y1="264.5" x2="410.45" y2="270.0" stroke="#4d4d4d" stroke-width="0.45"/>
<rect x="408.30" y="254.5" width="4.3" height="10.00" fill="#0FA6E2" stroke="#333" stroke-width="0.35"/>
<line x1="408.30" y1="259.5" x2="412.60" y2="259.5" stroke="#1a1a1a" stroke-width="0.9"/>
<line x1="414.75" y1="240.0" x2="414.75" y2="247.0" stroke="#4d4d4d" stroke-width="0.45"/>
<line x1="414.75" y1="266.0" x2="414.75" y2="273.0" stroke="#4d4d4d" stroke-width="0.45"/>
<rect x="412.60" y="247.0" width="4.3" height="19.00" fill="#8F8BEA" stroke="#333" stroke-width="0.35"/>
<line x1="412.60" y1="261.7" x2="416.90" y2="261.7" stroke="#1a1a1a" stroke-width="0.9"/>
<line x1="419.05" y1="243.0" x2="419.05" y2="249.2" stroke="#4d4d4d" stroke-width="0.45"/>
<line x1="419.05" y1="259.5" x2="419.05" y2="266.0" stroke="#4d4d4d" stroke-width="0.45"/>
<rect x="416.90" y="249.2" width="4.3" height="10.30" fill="#D56BE0" stroke="#333" stroke-width="0.35"/>
<line x1="416.90" y1="254.4" x2="421.20" y2="254.4" stroke="#1a1a1a" stroke-width="0.9"/>
<line x1="423.35" y1="199.5" x2="423.35" y2="217.2" stroke="#4d4d4d" stroke-width="0.45"/>
<line x1="423.35" y1="247.8" x2="423.35" y2="262.0" stroke="#4d4d4d" stroke-width="0.45"/>
<rect x="421.20" y="217.2" width="4.3" height="30.60" fill="#EA63B0" stroke="#333" stroke-width="0.35"/>
<line x1="421.20" y1="247.0" x2="425.50" y2="247.0" stroke="#1a1a1a" stroke-width="0.9"/>
<circle cx="384.5" cy="155.0" r="0.55" fill="#555" opacity="0.7"/>
<circle cx="397.0" cy="183.8" r="0.55" fill="#555" opacity="0.7"/>
<circle cx="396.0" cy="190.0" r="0.55" fill="#555" opacity="0.7"/>
<circle cx="412.0" cy="231.0" r="0.55" fill="#555" opacity="0.7"/>
<circle cx="423.0" cy="243.0" r="0.55" fill="#555" opacity="0.7"/>
<circle cx="415.0" cy="268.0" r="0.55" fill="#555" opacity="0.7"/>
<line x1="431.85" y1="198.0" x2="431.85" y2="214.2" stroke="#4d4d4d" stroke-width="0.45"/>
<line x1="431.85" y1="246.3" x2="431.85" y2="279.0" stroke="#4d4d4d" stroke-width="0.45"/>
<rect x="429.70" y="214.2" width="4.3" height="32.10" fill="#E4746C" stroke="#333" stroke-width="0.35"/>
<line x1="429.70" y1="236.0" x2="434.00" y2="236.0" stroke="#1a1a1a" stroke-width="0.9"/>
<line x1="436.15" y1="204.7" x2="436.15" y2="220.1" stroke="#4d4d4d" stroke-width="0.45"/>
<line x1="436.15" y1="246.3" x2="436.15" y2="282.3" stroke="#4d4d4d" stroke-width="0.45"/>
<rect x="434.00" y="220.1" width="4.3" height="26.20" fill="#C88B0F" stroke="#333" stroke-width="0.35"/>
<line x1="434.00" y1="237.5" x2="438.30" y2="237.5" stroke="#1a1a1a" stroke-width="0.9"/>
<line x1="440.45" y1="192.2" x2="440.45" y2="217.9" stroke="#4d4d4d" stroke-width="0.45"/>
<line x1="440.45" y1="251.4" x2="440.45" y2="279.0" stroke="#4d4d4d" stroke-width="0.45"/>
<rect x="438.30" y="217.9" width="4.3" height="33.50" fill="#9B9D0F" stroke="#333" stroke-width="0.35"/>
<line x1="438.30" y1="232.3" x2="442.60" y2="232.3" stroke="#1a1a1a" stroke-width="0.9"/>
<line x1="444.75" y1="202.5" x2="444.75" y2="231.1" stroke="#4d4d4d" stroke-width="0.45"/>
<line x1="444.75" y1="256.6" x2="444.75" y2="279.9" stroke="#4d4d4d" stroke-width="0.45"/>
<rect x="442.60" y="231.1" width="4.3" height="25.50" fill="#40AB0F" stroke="#333" stroke-width="0.35"/>
<line x1="442.60" y1="243.4" x2="446.90" y2="243.4" stroke="#1a1a1a" stroke-width="0.9"/>
<line x1="449.05" y1="230.0" x2="449.05" y2="246.3" stroke="#4d4d4d" stroke-width="0.45"/>
<line x1="449.05" y1="271.9" x2="449.05" y2="284.6" stroke="#4d4d4d" stroke-width="0.45"/>
<rect x="446.90" y="246.3" width="4.3" height="25.60" fill="#0FB37A" stroke="#333" stroke-width="0.35"/>
<line x1="446.90" y1="260.2" x2="451.20" y2="260.2" stroke="#1a1a1a" stroke-width="0.9"/>
<line x1="453.35" y1="232.0" x2="453.35" y2="248.5" stroke="#4d4d4d" stroke-width="0.45"/>
<line x1="453.35" y1="272.7" x2="453.35" y2="289.4" stroke="#4d4d4d" stroke-width="0.45"/>
<rect x="451.20" y="248.5" width="4.3" height="24.20" fill="#0FB3B7" stroke="#333" stroke-width="0.35"/>
<line x1="451.20" y1="258.0" x2="455.50" y2="258.0" stroke="#1a1a1a" stroke-width="0.9"/>
<line x1="457.65" y1="236.0" x2="457.65" y2="252.2" stroke="#4d4d4d" stroke-width="0.45"/>
<line x1="457.65" y1="275.1" x2="457.65" y2="303.7" stroke="#4d4d4d" stroke-width="0.45"/>
<rect x="455.50" y="252.2" width="4.3" height="22.90" fill="#0FA6E2" stroke="#333" stroke-width="0.35"/>
<line x1="455.50" y1="261.0" x2="459.80" y2="261.0" stroke="#1a1a1a" stroke-width="0.9"/>
<line x1="461.95" y1="234.0" x2="461.95" y2="249.2" stroke="#4d4d4d" stroke-width="0.45"/>
<line x1="461.95" y1="268.0" x2="461.95" y2="288.6" stroke="#4d4d4d" stroke-width="0.45"/>
<rect x="459.80" y="249.2" width="4.3" height="18.80" fill="#8F8BEA" stroke="#333" stroke-width="0.35"/>
<line x1="459.80" y1="263.9" x2="464.10" y2="263.9" stroke="#1a1a1a" stroke-width="0.9"/>
<line x1="466.25" y1="232.0" x2="466.25" y2="247.0" stroke="#4d4d4d" stroke-width="0.45"/>
<line x1="466.25" y1="270.5" x2="466.25" y2="286.0" stroke="#4d4d4d" stroke-width="0.45"/>
<rect x="464.10" y="247.0" width="4.3" height="23.50" fill="#D56BE0" stroke="#333" stroke-width="0.35"/>
<line x1="464.10" y1="263.2" x2="468.40" y2="263.2" stroke="#1a1a1a" stroke-width="0.9"/>
<line x1="470.55" y1="220.1" x2="470.55" y2="234.5" stroke="#4d4d4d" stroke-width="0.45"/>
<line x1="470.55" y1="247.0" x2="470.55" y2="262.0" stroke="#4d4d4d" stroke-width="0.45"/>
<rect x="468.40" y="234.5" width="4.3" height="12.50" fill="#EA63B0" stroke="#333" stroke-width="0.35"/>
<line x1="468.40" y1="244.1" x2="472.70" y2="244.1" stroke="#1a1a1a" stroke-width="0.9"/>
<circle cx="462.5" cy="172.4" r="0.55" fill="#555" opacity="0.7"/>
<circle cx="457.0" cy="204.0" r="0.55" fill="#555" opacity="0.7"/>
<text x="229.2" y="188.4" font-size="5.8" text-anchor="start" fill="#000" font-weight="normal" stroke="#000" stroke-width="0.128">Time point</text>
<rect x="231.7" y="192.20" width="5.3" height="4.0" fill="#E4746C" stroke="#555" stroke-width="0.45"/>
<line x1="234.35" y1="191.20" x2="234.35" y2="197.20" stroke="#444" stroke-width="0.5" opacity="0.75"/>
<line x1="231.7" y1="194.20" x2="237.0" y2="194.20" stroke="#222" stroke-width="0.7"/>
<text x="238.3" y="196.79999999999998" font-size="6.1" text-anchor="start" fill="#000" font-weight="normal" stroke="#000" stroke-width="0.134">1</text>
<rect x="231.7" y="199.02" width="5.3" height="4.0" fill="#C88B0F" stroke="#555" stroke-width="0.45"/>
<line x1="234.35" y1="198.02" x2="234.35" y2="204.02" stroke="#444" stroke-width="0.5" opacity="0.75"/>
<line x1="231.7" y1="201.02" x2="237.0" y2="201.02" stroke="#222" stroke-width="0.7"/>
<text x="238.3" y="203.61999999999998" font-size="6.1" text-anchor="start" fill="#000" font-weight="normal" stroke="#000" stroke-width="0.134">2</text>
<rect x="231.7" y="205.84" width="5.3" height="4.0" fill="#9B9D0F" stroke="#555" stroke-width="0.45"/>
<line x1="234.35" y1="204.84" x2="234.35" y2="210.84" stroke="#444" stroke-width="0.5" opacity="0.75"/>
<line x1="231.7" y1="207.84" x2="237.0" y2="207.84" stroke="#222" stroke-width="0.7"/>
<text x="238.3" y="210.43999999999997" font-size="6.1" text-anchor="start" fill="#000" font-weight="normal" stroke="#000" stroke-width="0.134">3</text>
<rect x="231.7" y="212.66" width="5.3" height="4.0" fill="#40AB0F" stroke="#555" stroke-width="0.45"/>
<line x1="234.35" y1="211.66" x2="234.35" y2="217.66" stroke="#444" stroke-width="0.5" opacity="0.75"/>
<line x1="231.7" y1="214.66" x2="237.0" y2="214.66" stroke="#222" stroke-width="0.7"/>
<text x="238.3" y="217.26" font-size="6.1" text-anchor="start" fill="#000" font-weight="normal" stroke="#000" stroke-width="0.134">4</text>
<rect x="231.7" y="219.48" width="5.3" height="4.0" fill="#0FB37A" stroke="#555" stroke-width="0.45"/>
<line x1="234.35" y1="218.48" x2="234.35" y2="224.48" stroke="#444" stroke-width="0.5" opacity="0.75"/>
<line x1="231.7" y1="221.48" x2="237.0" y2="221.48" stroke="#222" stroke-width="0.7"/>
<text x="238.3" y="224.07999999999998" font-size="6.1" text-anchor="start" fill="#000" font-weight="normal" stroke="#000" stroke-width="0.134">5</text>
<rect x="231.7" y="226.30" width="5.3" height="4.0" fill="#0FB3B7" stroke="#555" stroke-width="0.45"/>
<line x1="234.35" y1="225.30" x2="234.35" y2="231.30" stroke="#444" stroke-width="0.5" opacity="0.75"/>
<line x1="231.7" y1="228.30" x2="237.0" y2="228.30" stroke="#222" stroke-width="0.7"/>
<text x="238.3" y="230.89999999999998" font-size="6.1" text-anchor="start" fill="#000" font-weight="normal" stroke="#000" stroke-width="0.134">6</text>
<rect x="231.7" y="233.12" width="5.3" height="4.0" fill="#0FA6E2" stroke="#555" stroke-width="0.45"/>
<line x1="234.35" y1="232.12" x2="234.35" y2="238.12" stroke="#444" stroke-width="0.5" opacity="0.75"/>
<line x1="231.7" y1="235.12" x2="237.0" y2="235.12" stroke="#222" stroke-width="0.7"/>
<text x="238.3" y="237.72" font-size="6.1" text-anchor="start" fill="#000" font-weight="normal" stroke="#000" stroke-width="0.134">7</text>
<rect x="231.7" y="239.94" width="5.3" height="4.0" fill="#8F8BEA" stroke="#555" stroke-width="0.45"/>
<line x1="234.35" y1="238.94" x2="234.35" y2="244.94" stroke="#444" stroke-width="0.5" opacity="0.75"/>
<line x1="231.7" y1="241.94" x2="237.0" y2="241.94" stroke="#222" stroke-width="0.7"/>
<text x="238.3" y="244.54" font-size="6.1" text-anchor="start" fill="#000" font-weight="normal" stroke="#000" stroke-width="0.134">8</text>
<rect x="231.7" y="246.76" width="5.3" height="4.0" fill="#D56BE0" stroke="#555" stroke-width="0.45"/>
<line x1="234.35" y1="245.76" x2="234.35" y2="251.76" stroke="#444" stroke-width="0.5" opacity="0.75"/>
<line x1="231.7" y1="248.76" x2="237.0" y2="248.76" stroke="#222" stroke-width="0.7"/>
<text x="238.3" y="251.35999999999999" font-size="6.1" text-anchor="start" fill="#000" font-weight="normal" stroke="#000" stroke-width="0.134">9</text>
<rect x="231.7" y="253.58" width="5.3" height="4.0" fill="#EA63B0" stroke="#555" stroke-width="0.45"/>
<line x1="234.35" y1="252.58" x2="234.35" y2="258.58" stroke="#444" stroke-width="0.5" opacity="0.75"/>
<line x1="231.7" y1="255.58" x2="237.0" y2="255.58" stroke="#222" stroke-width="0.7"/>
<text x="238.3" y="258.18" font-size="6.1" text-anchor="start" fill="#000" font-weight="normal" stroke="#000" stroke-width="0.134">10</text>
<text x="479.5" y="188.4" font-size="5.8" text-anchor="start" fill="#000" font-weight="normal" stroke="#000" stroke-width="0.128">Time point</text>
<rect x="481.70000000000005" y="192.20" width="5.3" height="4.0" fill="#E4746C" stroke="#555" stroke-width="0.45"/>
<line x1="484.35" y1="191.20" x2="484.35" y2="197.20" stroke="#444" stroke-width="0.5" opacity="0.75"/>
<line x1="481.70000000000005" y1="194.20" x2="487.0" y2="194.20" stroke="#222" stroke-width="0.7"/>
<text x="488.8" y="196.79999999999998" font-size="6.1" text-anchor="start" fill="#000" font-weight="normal" stroke="#000" stroke-width="0.134">1</text>
<rect x="481.70000000000005" y="199.02" width="5.3" height="4.0" fill="#C88B0F" stroke="#555" stroke-width="0.45"/>
<line x1="484.35" y1="198.02" x2="484.35" y2="204.02" stroke="#444" stroke-width="0.5" opacity="0.75"/>
<line x1="481.70000000000005" y1="201.02" x2="487.0" y2="201.02" stroke="#222" stroke-width="0.7"/>
<text x="488.8" y="203.61999999999998" font-size="6.1" text-anchor="start" fill="#000" font-weight="normal" stroke="#000" stroke-width="0.134">2</text>
<rect x="481.70000000000005" y="205.84" width="5.3" height="4.0" fill="#9B9D0F" stroke="#555" stroke-width="0.45"/>
<line x1="484.35" y1="204.84" x2="484.35" y2="210.84" stroke="#444" stroke-width="0.5" opacity="0.75"/>
<line x1="481.70000000000005" y1="207.84" x2="487.0" y2="207.84" stroke="#222" stroke-width="0.7"/>
<text x="488.8" y="210.43999999999997" font-size="6.1" text-anchor="start" fill="#000" font-weight="normal" stroke="#000" stroke-width="0.134">3</text>
<rect x="481.70000000000005" y="212.66" width="5.3" height="4.0" fill="#40AB0F" stroke="#555" stroke-width="0.45"/>
<line x1="484.35" y1="211.66" x2="484.35" y2="217.66" stroke="#444" stroke-width="0.5" opacity="0.75"/>
<line x1="481.70000000000005" y1="214.66" x2="487.0" y2="214.66" stroke="#222" stroke-width="0.7"/>
<text x="488.8" y="217.26" font-size="6.1" text-anchor="start" fill="#000" font-weight="normal" stroke="#000" stroke-width="0.134">4</text>
<rect x="481.70000000000005" y="219.48" width="5.3" height="4.0" fill="#0FB37A" stroke="#555" stroke-width="0.45"/>
<line x1="484.35" y1="218.48" x2="484.35" y2="224.48" stroke="#444" stroke-width="0.5" opacity="0.75"/>
<line x1="481.70000000000005" y1="221.48" x2="487.0" y2="221.48" stroke="#222" stroke-width="0.7"/>
<text x="488.8" y="224.07999999999998" font-size="6.1" text-anchor="start" fill="#000" font-weight="normal" stroke="#000" stroke-width="0.134">5</text>
<rect x="481.70000000000005" y="226.30" width="5.3" height="4.0" fill="#0FB3B7" stroke="#555" stroke-width="0.45"/>
<line x1="484.35" y1="225.30" x2="484.35" y2="231.30" stroke="#444" stroke-width="0.5" opacity="0.75"/>
<line x1="481.70000000000005" y1="228.30" x2="487.0" y2="228.30" stroke="#222" stroke-width="0.7"/>
<text x="488.8" y="230.89999999999998" font-size="6.1" text-anchor="start" fill="#000" font-weight="normal" stroke="#000" stroke-width="0.134">6</text>
<rect x="481.70000000000005" y="233.12" width="5.3" height="4.0" fill="#0FA6E2" stroke="#555" stroke-width="0.45"/>
<line x1="484.35" y1="232.12" x2="484.35" y2="238.12" stroke="#444" stroke-width="0.5" opacity="0.75"/>
<line x1="481.70000000000005" y1="235.12" x2="487.0" y2="235.12" stroke="#222" stroke-width="0.7"/>
<text x="488.8" y="237.72" font-size="6.1" text-anchor="start" fill="#000" font-weight="normal" stroke="#000" stroke-width="0.134">7</text>
<rect x="481.70000000000005" y="239.94" width="5.3" height="4.0" fill="#8F8BEA" stroke="#555" stroke-width="0.45"/>
<line x1="484.35" y1="238.94" x2="484.35" y2="244.94" stroke="#444" stroke-width="0.5" opacity="0.75"/>
<line x1="481.70000000000005" y1="241.94" x2="487.0" y2="241.94" stroke="#222" stroke-width="0.7"/>
<text x="488.8" y="244.54" font-size="6.1" text-anchor="start" fill="#000" font-weight="normal" stroke="#000" stroke-width="0.134">8</text>
<rect x="481.70000000000005" y="246.76" width="5.3" height="4.0" fill="#D56BE0" stroke="#555" stroke-width="0.45"/>
<line x1="484.35" y1="245.76" x2="484.35" y2="251.76" stroke="#444" stroke-width="0.5" opacity="0.75"/>
<line x1="481.70000000000005" y1="248.76" x2="487.0" y2="248.76" stroke="#222" stroke-width="0.7"/>
<text x="488.8" y="251.35999999999999" font-size="6.1" text-anchor="start" fill="#000" font-weight="normal" stroke="#000" stroke-width="0.134">9</text>
<rect x="481.70000000000005" y="253.58" width="5.3" height="4.0" fill="#EA63B0" stroke="#555" stroke-width="0.45"/>
<line x1="484.35" y1="252.58" x2="484.35" y2="258.58" stroke="#444" stroke-width="0.5" opacity="0.75"/>
<line x1="481.70000000000005" y1="255.58" x2="487.0" y2="255.58" stroke="#222" stroke-width="0.7"/>
<text x="488.8" y="258.18" font-size="6.1" text-anchor="start" fill="#000" font-weight="normal" stroke="#000" stroke-width="0.134">10</text>
</g>
<rect x="0" y="0" width="520" height="1" fill="#787878"/>
<rect x="1" y="1" width="517" height="1" fill="#e2e2e2"/>
<rect x="0" y="0" width="1" height="327" fill="#787878"/>
<rect x="1" y="1" width="1" height="324" fill="#e6e6e6"/>
<rect x="518" y="1" width="1" height="325" fill="#d0d0d0"/>
<rect x="1" y="325" width="518" height="1" fill="#d0d0d0"/>
<rect x="519" y="0" width="1" height="327" fill="#979797"/>
<rect x="0" y="326" width="520" height="1" fill="#9a9a9a"/>
</svg>
</body></html>
